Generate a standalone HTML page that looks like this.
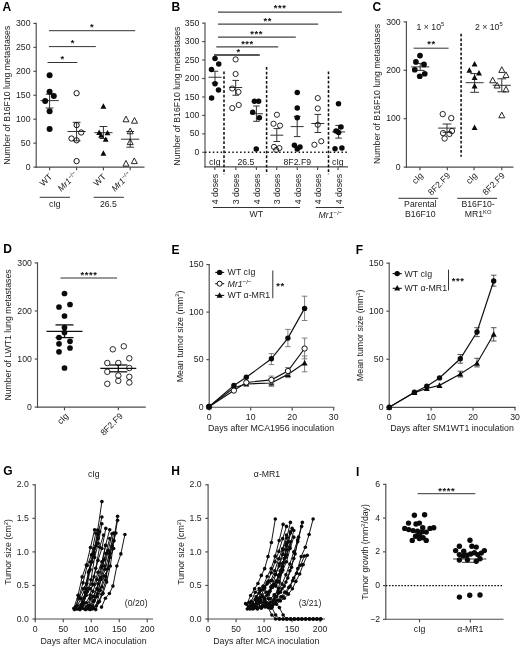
<!DOCTYPE html>
<html><head><meta charset="utf-8"><title>Figure</title>
<style>html,body{margin:0;padding:0;background:#fff}svg{display:block}text{font-family:"Liberation Sans",sans-serif}</style></head>
<body>
<svg width="520" height="646" viewBox="0 0 520 646">
<rect width="520" height="646" fill="#fff"/>
<text x="2.60" y="10.90" font-size="12" text-anchor="start" font-weight="bold" fill="#000">A</text>
<text x="171.40" y="10.90" font-size="12" text-anchor="start" font-weight="bold" fill="#000">B</text>
<text x="372.60" y="11.00" font-size="12" text-anchor="start" font-weight="bold" fill="#000">C</text>
<text x="3.30" y="253.00" font-size="12" text-anchor="start" font-weight="bold" fill="#000">D</text>
<text x="171.50" y="253.70" font-size="12" text-anchor="start" font-weight="bold" fill="#000">E</text>
<text x="355.80" y="253.90" font-size="12" text-anchor="start" font-weight="bold" fill="#000">F</text>
<text x="3.30" y="474.70" font-size="12" text-anchor="start" font-weight="bold" fill="#000">G</text>
<text x="171.20" y="474.80" font-size="12" text-anchor="start" font-weight="bold" fill="#000">H</text>
<text x="356.00" y="475.60" font-size="12" text-anchor="start" font-weight="bold" fill="#000">I</text>
<line x1="36.20" y1="22.80" x2="36.20" y2="167.70" stroke="#4c4c4c" stroke-width="1.15" stroke-linecap="butt"/>
<line x1="35.60" y1="167.10" x2="144.50" y2="167.10" stroke="#4c4c4c" stroke-width="1.15" stroke-linecap="butt"/>
<line x1="33.40" y1="167.10" x2="36.20" y2="167.10" stroke="#4c4c4c" stroke-width="1.15" stroke-linecap="butt"/>
<text x="30.50" y="169.70" font-size="8.7" text-anchor="end" fill="#222">0</text>
<line x1="33.40" y1="143.15" x2="36.20" y2="143.15" stroke="#4c4c4c" stroke-width="1.15" stroke-linecap="butt"/>
<text x="30.50" y="145.75" font-size="8.7" text-anchor="end" fill="#222">50</text>
<line x1="33.40" y1="119.20" x2="36.20" y2="119.20" stroke="#4c4c4c" stroke-width="1.15" stroke-linecap="butt"/>
<text x="30.50" y="121.80" font-size="8.7" text-anchor="end" fill="#222">100</text>
<line x1="33.40" y1="95.25" x2="36.20" y2="95.25" stroke="#4c4c4c" stroke-width="1.15" stroke-linecap="butt"/>
<text x="30.50" y="97.85" font-size="8.7" text-anchor="end" fill="#222">150</text>
<line x1="33.40" y1="71.30" x2="36.20" y2="71.30" stroke="#4c4c4c" stroke-width="1.15" stroke-linecap="butt"/>
<text x="30.50" y="73.90" font-size="8.7" text-anchor="end" fill="#222">200</text>
<line x1="33.40" y1="47.35" x2="36.20" y2="47.35" stroke="#4c4c4c" stroke-width="1.15" stroke-linecap="butt"/>
<text x="30.50" y="49.95" font-size="8.7" text-anchor="end" fill="#222">250</text>
<line x1="33.40" y1="23.40" x2="36.20" y2="23.40" stroke="#4c4c4c" stroke-width="1.15" stroke-linecap="butt"/>
<text x="30.50" y="26.00" font-size="8.7" text-anchor="end" fill="#222">300</text>
<line x1="49.60" y1="167.10" x2="49.60" y2="170.30" stroke="#4c4c4c" stroke-width="1.15" stroke-linecap="butt"/>
<line x1="76.60" y1="167.10" x2="76.60" y2="170.30" stroke="#4c4c4c" stroke-width="1.15" stroke-linecap="butt"/>
<line x1="103.40" y1="167.10" x2="103.40" y2="170.30" stroke="#4c4c4c" stroke-width="1.15" stroke-linecap="butt"/>
<line x1="130.20" y1="167.10" x2="130.20" y2="170.30" stroke="#4c4c4c" stroke-width="1.15" stroke-linecap="butt"/>
<text x="10.10" y="95.30" font-size="8.7" text-anchor="middle" transform="rotate(-90 10.10 95.30)" fill="#222">Number of B16F10 lung metastases</text>
<line x1="48.90" y1="30.70" x2="135.20" y2="30.70" stroke="#333" stroke-width="1.0" stroke-linecap="butt"/>
<text x="92.10" y="29.50" font-size="9.4" text-anchor="middle" font-weight="bold" fill="#111" letter-spacing="0.6">*</text>
<line x1="48.90" y1="46.60" x2="95.80" y2="46.60" stroke="#333" stroke-width="1.0" stroke-linecap="butt"/>
<text x="72.80" y="46.40" font-size="9.4" text-anchor="middle" font-weight="bold" fill="#111" letter-spacing="0.6">*</text>
<line x1="47.50" y1="62.50" x2="77.30" y2="62.50" stroke="#333" stroke-width="1.0" stroke-linecap="butt"/>
<text x="62.60" y="62.30" font-size="9.4" text-anchor="middle" font-weight="bold" fill="#111" letter-spacing="0.6">*</text>
<line x1="40.50" y1="100.60" x2="58.70" y2="100.60" stroke="#333" stroke-width="1.0" stroke-linecap="butt"/>
<line x1="49.60" y1="94.20" x2="49.60" y2="108.00" stroke="#333" stroke-width="1.0" stroke-linecap="butt"/>
<line x1="45.70" y1="94.20" x2="53.50" y2="94.20" stroke="#333" stroke-width="1.0" stroke-linecap="butt"/>
<line x1="45.70" y1="108.00" x2="53.50" y2="108.00" stroke="#333" stroke-width="1.0" stroke-linecap="butt"/>
<circle cx="49.60" cy="75.20" r="3.0" fill="#0a0a0a"/>
<circle cx="49.60" cy="91.80" r="3.0" fill="#0a0a0a"/>
<circle cx="53.80" cy="96.00" r="3.0" fill="#0a0a0a"/>
<circle cx="45.20" cy="101.10" r="3.0" fill="#0a0a0a"/>
<circle cx="49.60" cy="111.20" r="3.0" fill="#0a0a0a"/>
<circle cx="49.60" cy="129.00" r="3.0" fill="#0a0a0a"/>
<line x1="67.50" y1="131.50" x2="85.70" y2="131.50" stroke="#333" stroke-width="1.0" stroke-linecap="butt"/>
<line x1="76.60" y1="122.30" x2="76.60" y2="140.80" stroke="#333" stroke-width="1.0" stroke-linecap="butt"/>
<line x1="72.70" y1="122.30" x2="80.50" y2="122.30" stroke="#333" stroke-width="1.0" stroke-linecap="butt"/>
<line x1="72.70" y1="140.80" x2="80.50" y2="140.80" stroke="#333" stroke-width="1.0" stroke-linecap="butt"/>
<circle cx="76.60" cy="93.20" r="2.65" fill="none" stroke="#111" stroke-width="1.0"/>
<circle cx="76.60" cy="125.10" r="2.65" fill="none" stroke="#111" stroke-width="1.0"/>
<circle cx="81.20" cy="132.50" r="2.65" fill="none" stroke="#111" stroke-width="1.0"/>
<circle cx="71.50" cy="138.50" r="2.65" fill="none" stroke="#111" stroke-width="1.0"/>
<circle cx="76.60" cy="140.30" r="2.65" fill="none" stroke="#111" stroke-width="1.0"/>
<circle cx="76.60" cy="161.10" r="2.65" fill="none" stroke="#111" stroke-width="1.0"/>
<line x1="94.30" y1="132.70" x2="112.50" y2="132.70" stroke="#333" stroke-width="1.0" stroke-linecap="butt"/>
<line x1="103.40" y1="126.50" x2="103.40" y2="138.50" stroke="#333" stroke-width="1.0" stroke-linecap="butt"/>
<line x1="99.50" y1="126.50" x2="107.30" y2="126.50" stroke="#333" stroke-width="1.0" stroke-linecap="butt"/>
<line x1="99.50" y1="138.50" x2="107.30" y2="138.50" stroke="#333" stroke-width="1.0" stroke-linecap="butt"/>
<polygon points="103.40,103.20 100.45,108.66 106.35,108.66" fill="#0a0a0a"/>
<polygon points="99.20,129.50 96.25,134.96 102.15,134.96" fill="#0a0a0a"/>
<polygon points="107.50,129.90 104.55,135.36 110.45,135.36" fill="#0a0a0a"/>
<polygon points="101.10,132.20 98.15,137.66 104.05,137.66" fill="#0a0a0a"/>
<polygon points="105.70,136.40 102.75,141.86 108.65,141.86" fill="#0a0a0a"/>
<polygon points="103.40,150.20 100.45,155.66 106.35,155.66" fill="#0a0a0a"/>
<line x1="121.10" y1="139.20" x2="139.30" y2="139.20" stroke="#333" stroke-width="1.0" stroke-linecap="butt"/>
<line x1="130.20" y1="131.50" x2="130.20" y2="147.20" stroke="#333" stroke-width="1.0" stroke-linecap="butt"/>
<line x1="126.30" y1="131.50" x2="134.10" y2="131.50" stroke="#333" stroke-width="1.0" stroke-linecap="butt"/>
<line x1="126.30" y1="147.20" x2="134.10" y2="147.20" stroke="#333" stroke-width="1.0" stroke-linecap="butt"/>
<polygon points="126.00,116.13 122.99,121.81 129.01,121.81" fill="none" stroke="#111" stroke-width="0.9" stroke-linejoin="miter"/>
<polygon points="134.50,117.53 131.49,123.21 137.51,123.21" fill="none" stroke="#111" stroke-width="0.9" stroke-linejoin="miter"/>
<polygon points="130.20,128.13 127.19,133.81 133.21,133.81" fill="none" stroke="#111" stroke-width="0.9" stroke-linejoin="miter"/>
<polygon points="130.20,138.93 127.19,144.61 133.21,144.61" fill="none" stroke="#111" stroke-width="0.9" stroke-linejoin="miter"/>
<polygon points="126.00,160.43 122.99,166.11 129.01,166.11" fill="none" stroke="#111" stroke-width="0.9" stroke-linejoin="miter"/>
<polygon points="134.30,157.93 131.29,163.61 137.31,163.61" fill="none" stroke="#111" stroke-width="0.9" stroke-linejoin="miter"/>
<text x="52.80" y="177.30" font-size="8.7" text-anchor="end" transform="rotate(-45 52.80 177.30)" fill="#222">WT</text>
<text x="78.20" y="175.30" font-size="8.7" text-anchor="end" transform="rotate(-45 78.20 175.30)" font-style="italic" fill="#222">Mr1<tspan font-size="6.1" dy="-2.9" font-style="normal">−/−</tspan></text>
<text x="106.60" y="177.30" font-size="8.7" text-anchor="end" transform="rotate(-45 106.60 177.30)" fill="#222">WT</text>
<text x="131.80" y="175.30" font-size="8.7" text-anchor="end" transform="rotate(-45 131.80 175.30)" font-style="italic" fill="#222">Mr1<tspan font-size="6.1" dy="-2.9" font-style="normal">−/−</tspan></text>
<line x1="39.70" y1="197.30" x2="70.00" y2="197.30" stroke="#333" stroke-width="1.0" stroke-linecap="butt"/>
<text x="54.90" y="207.40" font-size="8.7" text-anchor="middle" fill="#222">cIg</text>
<line x1="93.60" y1="197.30" x2="123.90" y2="197.30" stroke="#333" stroke-width="1.0" stroke-linecap="butt"/>
<text x="108.40" y="207.40" font-size="8.7" text-anchor="middle" fill="#222">26.5</text>
<line x1="205.00" y1="22.55" x2="205.00" y2="167.50" stroke="#4c4c4c" stroke-width="1.15" stroke-linecap="butt"/>
<line x1="204.40" y1="166.90" x2="348.00" y2="166.90" stroke="#4c4c4c" stroke-width="1.15" stroke-linecap="butt"/>
<line x1="202.20" y1="152.30" x2="205.00" y2="152.30" stroke="#4c4c4c" stroke-width="1.15" stroke-linecap="butt"/>
<text x="199.30" y="154.90" font-size="8.7" text-anchor="end" fill="#222">0</text>
<line x1="202.20" y1="133.85" x2="205.00" y2="133.85" stroke="#4c4c4c" stroke-width="1.15" stroke-linecap="butt"/>
<text x="199.30" y="136.45" font-size="8.7" text-anchor="end" fill="#222">50</text>
<line x1="202.20" y1="115.40" x2="205.00" y2="115.40" stroke="#4c4c4c" stroke-width="1.15" stroke-linecap="butt"/>
<text x="199.30" y="118.00" font-size="8.7" text-anchor="end" fill="#222">100</text>
<line x1="202.20" y1="96.95" x2="205.00" y2="96.95" stroke="#4c4c4c" stroke-width="1.15" stroke-linecap="butt"/>
<text x="199.30" y="99.55" font-size="8.7" text-anchor="end" fill="#222">150</text>
<line x1="202.20" y1="78.50" x2="205.00" y2="78.50" stroke="#4c4c4c" stroke-width="1.15" stroke-linecap="butt"/>
<text x="199.30" y="81.10" font-size="8.7" text-anchor="end" fill="#222">200</text>
<line x1="202.20" y1="60.05" x2="205.00" y2="60.05" stroke="#4c4c4c" stroke-width="1.15" stroke-linecap="butt"/>
<text x="199.30" y="62.65" font-size="8.7" text-anchor="end" fill="#222">250</text>
<line x1="202.20" y1="41.60" x2="205.00" y2="41.60" stroke="#4c4c4c" stroke-width="1.15" stroke-linecap="butt"/>
<text x="199.30" y="44.20" font-size="8.7" text-anchor="end" fill="#222">300</text>
<line x1="202.20" y1="23.15" x2="205.00" y2="23.15" stroke="#4c4c4c" stroke-width="1.15" stroke-linecap="butt"/>
<text x="199.30" y="25.75" font-size="8.7" text-anchor="end" fill="#222">350</text>
<line x1="214.80" y1="166.90" x2="214.80" y2="170.10" stroke="#4c4c4c" stroke-width="1.15" stroke-linecap="butt"/>
<line x1="235.80" y1="166.90" x2="235.80" y2="170.10" stroke="#4c4c4c" stroke-width="1.15" stroke-linecap="butt"/>
<line x1="256.40" y1="166.90" x2="256.40" y2="170.10" stroke="#4c4c4c" stroke-width="1.15" stroke-linecap="butt"/>
<line x1="276.70" y1="166.90" x2="276.70" y2="170.10" stroke="#4c4c4c" stroke-width="1.15" stroke-linecap="butt"/>
<line x1="297.30" y1="166.90" x2="297.30" y2="170.10" stroke="#4c4c4c" stroke-width="1.15" stroke-linecap="butt"/>
<line x1="317.60" y1="166.90" x2="317.60" y2="170.10" stroke="#4c4c4c" stroke-width="1.15" stroke-linecap="butt"/>
<line x1="338.00" y1="166.90" x2="338.00" y2="170.10" stroke="#4c4c4c" stroke-width="1.15" stroke-linecap="butt"/>
<text x="180.20" y="96.10" font-size="8.7" text-anchor="middle" transform="rotate(-90 180.20 96.10)" fill="#222">Number of B16F10 lung metastases</text>
<line x1="205.00" y1="152.30" x2="348.00" y2="152.30" stroke="#111" stroke-width="1.4" stroke-dasharray="1.5 2.4" stroke-linecap="butt"/>
<line x1="224.00" y1="71.50" x2="224.00" y2="174.20" stroke="#111" stroke-width="1.55" stroke-dasharray="2.8 1.85" stroke-linecap="butt"/>
<line x1="266.60" y1="67.00" x2="266.60" y2="174.20" stroke="#111" stroke-width="1.55" stroke-dasharray="2.8 1.85" stroke-linecap="butt"/>
<line x1="328.50" y1="71.50" x2="328.50" y2="174.20" stroke="#111" stroke-width="1.55" stroke-dasharray="2.8 1.85" stroke-linecap="butt"/>
<line x1="218.00" y1="12.10" x2="341.90" y2="12.10" stroke="#444" stroke-width="1.1" stroke-linecap="butt"/>
<text x="280.10" y="11.00" font-size="9.4" text-anchor="middle" font-weight="bold" fill="#111" letter-spacing="0.6">***</text>
<line x1="218.00" y1="24.10" x2="318.20" y2="24.10" stroke="#444" stroke-width="1.1" stroke-linecap="butt"/>
<text x="267.80" y="23.70" font-size="9.4" text-anchor="middle" font-weight="bold" fill="#111" letter-spacing="0.6">**</text>
<line x1="218.00" y1="37.10" x2="295.80" y2="37.10" stroke="#444" stroke-width="1.1" stroke-linecap="butt"/>
<text x="256.70" y="36.60" font-size="9.4" text-anchor="middle" font-weight="bold" fill="#111" letter-spacing="0.6">***</text>
<line x1="216.30" y1="46.90" x2="278.20" y2="46.90" stroke="#444" stroke-width="1.1" stroke-linecap="butt"/>
<text x="247.50" y="47.20" font-size="9.4" text-anchor="middle" font-weight="bold" fill="#111" letter-spacing="0.6">***</text>
<line x1="214.00" y1="55.00" x2="259.80" y2="55.00" stroke="#222" stroke-width="1.4" stroke-linecap="butt"/>
<text x="238.50" y="55.10" font-size="9.4" text-anchor="middle" font-weight="bold" fill="#111" letter-spacing="0.6">*</text>
<line x1="208.50" y1="77.25" x2="221.50" y2="77.25" stroke="#333" stroke-width="1.0" stroke-linecap="butt"/>
<line x1="215.00" y1="71.25" x2="215.00" y2="82.90" stroke="#333" stroke-width="1.0" stroke-linecap="butt"/>
<line x1="211.70" y1="71.25" x2="218.30" y2="71.25" stroke="#333" stroke-width="1.0" stroke-linecap="butt"/>
<line x1="211.70" y1="82.90" x2="218.30" y2="82.90" stroke="#333" stroke-width="1.0" stroke-linecap="butt"/>
<circle cx="215.00" cy="58.50" r="2.75" fill="#0a0a0a"/>
<circle cx="218.75" cy="64.00" r="2.75" fill="#0a0a0a"/>
<circle cx="211.50" cy="69.60" r="2.75" fill="#0a0a0a"/>
<circle cx="215.00" cy="83.75" r="2.75" fill="#0a0a0a"/>
<circle cx="218.50" cy="90.00" r="2.75" fill="#0a0a0a"/>
<circle cx="211.60" cy="97.90" r="2.75" fill="#0a0a0a"/>
<line x1="229.20" y1="87.50" x2="242.20" y2="87.50" stroke="#333" stroke-width="1.0" stroke-linecap="butt"/>
<line x1="235.70" y1="80.40" x2="235.70" y2="95.25" stroke="#333" stroke-width="1.0" stroke-linecap="butt"/>
<line x1="232.40" y1="80.40" x2="239.00" y2="80.40" stroke="#333" stroke-width="1.0" stroke-linecap="butt"/>
<line x1="232.40" y1="95.25" x2="239.00" y2="95.25" stroke="#333" stroke-width="1.0" stroke-linecap="butt"/>
<circle cx="235.60" cy="59.40" r="2.5999999999999996" fill="none" stroke="#111" stroke-width="0.9"/>
<circle cx="235.60" cy="74.00" r="2.5999999999999996" fill="none" stroke="#111" stroke-width="0.9"/>
<circle cx="232.25" cy="88.50" r="2.5999999999999996" fill="none" stroke="#111" stroke-width="0.9"/>
<circle cx="238.50" cy="91.90" r="2.5999999999999996" fill="none" stroke="#111" stroke-width="0.9"/>
<circle cx="238.75" cy="105.00" r="2.5999999999999996" fill="none" stroke="#111" stroke-width="0.9"/>
<circle cx="232.25" cy="108.10" r="2.5999999999999996" fill="none" stroke="#111" stroke-width="0.9"/>
<line x1="249.90" y1="113.75" x2="262.90" y2="113.75" stroke="#333" stroke-width="1.0" stroke-linecap="butt"/>
<line x1="256.40" y1="106.00" x2="256.40" y2="121.30" stroke="#333" stroke-width="1.0" stroke-linecap="butt"/>
<line x1="253.10" y1="106.00" x2="259.70" y2="106.00" stroke="#333" stroke-width="1.0" stroke-linecap="butt"/>
<line x1="253.10" y1="121.30" x2="259.70" y2="121.30" stroke="#333" stroke-width="1.0" stroke-linecap="butt"/>
<circle cx="254.40" cy="101.25" r="2.75" fill="#0a0a0a"/>
<circle cx="258.60" cy="101.25" r="2.75" fill="#0a0a0a"/>
<circle cx="252.75" cy="112.25" r="2.75" fill="#0a0a0a"/>
<circle cx="259.40" cy="117.75" r="2.75" fill="#0a0a0a"/>
<circle cx="256.25" cy="148.90" r="2.75" fill="#0a0a0a"/>
<line x1="270.30" y1="135.20" x2="283.30" y2="135.20" stroke="#333" stroke-width="1.0" stroke-linecap="butt"/>
<line x1="276.80" y1="128.60" x2="276.80" y2="141.50" stroke="#333" stroke-width="1.0" stroke-linecap="butt"/>
<line x1="273.50" y1="128.60" x2="280.10" y2="128.60" stroke="#333" stroke-width="1.0" stroke-linecap="butt"/>
<line x1="273.50" y1="141.50" x2="280.10" y2="141.50" stroke="#333" stroke-width="1.0" stroke-linecap="butt"/>
<circle cx="276.90" cy="114.75" r="2.5999999999999996" fill="none" stroke="#111" stroke-width="0.9"/>
<circle cx="273.50" cy="123.75" r="2.5999999999999996" fill="none" stroke="#111" stroke-width="0.9"/>
<circle cx="280.00" cy="125.60" r="2.5999999999999996" fill="none" stroke="#111" stroke-width="0.9"/>
<circle cx="274.00" cy="146.90" r="2.5999999999999996" fill="none" stroke="#111" stroke-width="0.9"/>
<circle cx="279.40" cy="148.10" r="2.5999999999999996" fill="none" stroke="#111" stroke-width="0.9"/>
<circle cx="276.25" cy="150.00" r="2.5999999999999996" fill="none" stroke="#111" stroke-width="0.9"/>
<line x1="290.70" y1="126.60" x2="303.70" y2="126.60" stroke="#333" stroke-width="1.0" stroke-linecap="butt"/>
<line x1="297.20" y1="116.40" x2="297.20" y2="136.60" stroke="#333" stroke-width="1.0" stroke-linecap="butt"/>
<line x1="293.90" y1="116.40" x2="300.50" y2="116.40" stroke="#333" stroke-width="1.0" stroke-linecap="butt"/>
<line x1="293.90" y1="136.60" x2="300.50" y2="136.60" stroke="#333" stroke-width="1.0" stroke-linecap="butt"/>
<circle cx="297.25" cy="92.50" r="2.75" fill="#0a0a0a"/>
<circle cx="297.25" cy="108.10" r="2.75" fill="#0a0a0a"/>
<circle cx="297.25" cy="117.75" r="2.75" fill="#0a0a0a"/>
<circle cx="294.40" cy="145.20" r="2.75" fill="#0a0a0a"/>
<circle cx="300.00" cy="146.90" r="2.75" fill="#0a0a0a"/>
<circle cx="297.25" cy="148.90" r="2.75" fill="#0a0a0a"/>
<line x1="311.30" y1="123.50" x2="324.30" y2="123.50" stroke="#333" stroke-width="1.0" stroke-linecap="butt"/>
<line x1="317.80" y1="114.40" x2="317.80" y2="132.50" stroke="#333" stroke-width="1.0" stroke-linecap="butt"/>
<line x1="314.50" y1="114.40" x2="321.10" y2="114.40" stroke="#333" stroke-width="1.0" stroke-linecap="butt"/>
<line x1="314.50" y1="132.50" x2="321.10" y2="132.50" stroke="#333" stroke-width="1.0" stroke-linecap="butt"/>
<circle cx="317.75" cy="98.10" r="2.5999999999999996" fill="none" stroke="#111" stroke-width="0.9"/>
<circle cx="317.75" cy="108.40" r="2.5999999999999996" fill="none" stroke="#111" stroke-width="0.9"/>
<circle cx="317.75" cy="124.75" r="2.5999999999999996" fill="none" stroke="#111" stroke-width="0.9"/>
<circle cx="321.25" cy="141.25" r="2.5999999999999996" fill="none" stroke="#111" stroke-width="0.9"/>
<circle cx="314.40" cy="144.75" r="2.5999999999999996" fill="none" stroke="#111" stroke-width="0.9"/>
<line x1="332.10" y1="131.90" x2="345.10" y2="131.90" stroke="#333" stroke-width="1.0" stroke-linecap="butt"/>
<line x1="338.60" y1="125.40" x2="338.60" y2="138.10" stroke="#333" stroke-width="1.0" stroke-linecap="butt"/>
<line x1="335.30" y1="125.40" x2="341.90" y2="125.40" stroke="#333" stroke-width="1.0" stroke-linecap="butt"/>
<line x1="335.30" y1="138.10" x2="341.90" y2="138.10" stroke="#333" stroke-width="1.0" stroke-linecap="butt"/>
<circle cx="338.50" cy="103.75" r="2.75" fill="#0a0a0a"/>
<circle cx="341.00" cy="126.90" r="2.75" fill="#0a0a0a"/>
<circle cx="336.00" cy="131.00" r="2.75" fill="#0a0a0a"/>
<circle cx="338.60" cy="132.50" r="2.75" fill="#0a0a0a"/>
<circle cx="335.00" cy="148.75" r="2.75" fill="#0a0a0a"/>
<circle cx="341.90" cy="148.10" r="2.75" fill="#0a0a0a"/>
<text x="214.80" y="164.50" font-size="8.7" text-anchor="middle" fill="#222">cIg</text>
<text x="245.90" y="164.50" font-size="8.7" text-anchor="middle" fill="#222">26.5</text>
<text x="297.30" y="164.50" font-size="8.7" text-anchor="middle" fill="#222">8F2.F9</text>
<text x="337.90" y="164.50" font-size="8.7" text-anchor="middle" fill="#222">cIg</text>
<text x="218.40" y="173.80" font-size="8.7" text-anchor="end" transform="rotate(-90 218.40 173.80)" fill="#222">4 doses</text>
<text x="239.40" y="173.80" font-size="8.7" text-anchor="end" transform="rotate(-90 239.40 173.80)" fill="#222">3 doses</text>
<text x="260.00" y="173.80" font-size="8.7" text-anchor="end" transform="rotate(-90 260.00 173.80)" fill="#222">4 doses</text>
<text x="280.30" y="173.80" font-size="8.7" text-anchor="end" transform="rotate(-90 280.30 173.80)" fill="#222">3 doses</text>
<text x="300.90" y="173.80" font-size="8.7" text-anchor="end" transform="rotate(-90 300.90 173.80)" fill="#222">4 doses</text>
<text x="321.20" y="173.80" font-size="8.7" text-anchor="end" transform="rotate(-90 321.20 173.80)" fill="#222">4 doses</text>
<text x="341.60" y="173.80" font-size="8.7" text-anchor="end" transform="rotate(-90 341.60 173.80)" fill="#222">4 doses</text>
<line x1="213.00" y1="207.50" x2="300.00" y2="207.50" stroke="#333" stroke-width="1.0" stroke-linecap="butt"/>
<text x="256.30" y="216.80" font-size="8.7" text-anchor="middle" fill="#222">WT</text>
<line x1="315.70" y1="207.50" x2="344.00" y2="207.50" stroke="#333" stroke-width="1.0" stroke-linecap="butt"/>
<text x="330.50" y="217.60" font-size="8.7" text-anchor="middle" font-style="italic" fill="#222">Mr1<tspan font-size="6.1" dy="-2.9" font-style="normal">−/−</tspan></text>
<line x1="406.40" y1="21.30" x2="406.40" y2="167.70" stroke="#4c4c4c" stroke-width="1.15" stroke-linecap="butt"/>
<line x1="405.80" y1="167.10" x2="513.50" y2="167.10" stroke="#4c4c4c" stroke-width="1.15" stroke-linecap="butt"/>
<line x1="403.60" y1="167.10" x2="406.40" y2="167.10" stroke="#4c4c4c" stroke-width="1.15" stroke-linecap="butt"/>
<text x="400.70" y="169.70" font-size="8.7" text-anchor="end" fill="#222">0</text>
<line x1="403.60" y1="118.70" x2="406.40" y2="118.70" stroke="#4c4c4c" stroke-width="1.15" stroke-linecap="butt"/>
<text x="400.70" y="121.30" font-size="8.7" text-anchor="end" fill="#222">100</text>
<line x1="403.60" y1="70.30" x2="406.40" y2="70.30" stroke="#4c4c4c" stroke-width="1.15" stroke-linecap="butt"/>
<text x="400.70" y="72.90" font-size="8.7" text-anchor="end" fill="#222">200</text>
<line x1="403.60" y1="21.90" x2="406.40" y2="21.90" stroke="#4c4c4c" stroke-width="1.15" stroke-linecap="butt"/>
<text x="400.70" y="24.50" font-size="8.7" text-anchor="end" fill="#222">300</text>
<line x1="420.00" y1="167.10" x2="420.00" y2="170.30" stroke="#4c4c4c" stroke-width="1.15" stroke-linecap="butt"/>
<line x1="447.30" y1="167.10" x2="447.30" y2="170.30" stroke="#4c4c4c" stroke-width="1.15" stroke-linecap="butt"/>
<line x1="474.00" y1="167.10" x2="474.00" y2="170.30" stroke="#4c4c4c" stroke-width="1.15" stroke-linecap="butt"/>
<line x1="501.80" y1="167.10" x2="501.80" y2="170.30" stroke="#4c4c4c" stroke-width="1.15" stroke-linecap="butt"/>
<text x="380.50" y="93.90" font-size="8.75" text-anchor="middle" transform="rotate(-90 380.50 93.90)" fill="#222">Number of B16F10 lung metastases</text>
<text x="430.40" y="29.70" font-size="8.7" text-anchor="middle" fill="#222">1 × 10<tspan font-size="5.8" dy="-3.3">5</tspan></text>
<text x="488.80" y="29.70" font-size="8.7" text-anchor="middle" fill="#222">2 × 10<tspan font-size="5.8" dy="-3.3">5</tspan></text>
<line x1="413.60" y1="48.20" x2="448.60" y2="48.20" stroke="#333" stroke-width="1.0" stroke-linecap="butt"/>
<text x="431.50" y="47.20" font-size="9.4" text-anchor="middle" font-weight="bold" fill="#111" letter-spacing="0.6">**</text>
<line x1="461.10" y1="33.80" x2="461.10" y2="156.70" stroke="#111" stroke-width="1.55" stroke-dasharray="2.8 1.85" stroke-linecap="butt"/>
<line x1="411.10" y1="66.90" x2="429.30" y2="66.90" stroke="#333" stroke-width="1.0" stroke-linecap="butt"/>
<line x1="420.20" y1="63.40" x2="420.20" y2="70.40" stroke="#333" stroke-width="1.0" stroke-linecap="butt"/>
<line x1="415.80" y1="63.40" x2="424.60" y2="63.40" stroke="#333" stroke-width="1.0" stroke-linecap="butt"/>
<line x1="415.80" y1="70.40" x2="424.60" y2="70.40" stroke="#333" stroke-width="1.0" stroke-linecap="butt"/>
<circle cx="420.00" cy="55.60" r="2.85" fill="#0a0a0a"/>
<circle cx="415.90" cy="61.90" r="2.85" fill="#0a0a0a"/>
<circle cx="424.00" cy="64.40" r="2.85" fill="#0a0a0a"/>
<circle cx="414.75" cy="69.75" r="2.85" fill="#0a0a0a"/>
<circle cx="424.75" cy="73.75" r="2.85" fill="#0a0a0a"/>
<circle cx="419.75" cy="76.25" r="2.85" fill="#0a0a0a"/>
<line x1="438.10" y1="128.10" x2="455.90" y2="128.10" stroke="#333" stroke-width="1.0" stroke-linecap="butt"/>
<line x1="447.00" y1="124.00" x2="447.00" y2="132.25" stroke="#333" stroke-width="1.0" stroke-linecap="butt"/>
<line x1="442.60" y1="124.00" x2="451.40" y2="124.00" stroke="#333" stroke-width="1.0" stroke-linecap="butt"/>
<line x1="442.60" y1="132.25" x2="451.40" y2="132.25" stroke="#333" stroke-width="1.0" stroke-linecap="butt"/>
<circle cx="442.75" cy="114.10" r="2.6999999999999997" fill="none" stroke="#111" stroke-width="0.9"/>
<circle cx="451.25" cy="118.10" r="2.6999999999999997" fill="none" stroke="#111" stroke-width="0.9"/>
<circle cx="443.10" cy="133.10" r="2.6999999999999997" fill="none" stroke="#111" stroke-width="0.9"/>
<circle cx="449.40" cy="134.00" r="2.6999999999999997" fill="none" stroke="#111" stroke-width="0.9"/>
<circle cx="452.00" cy="131.00" r="2.6999999999999997" fill="none" stroke="#111" stroke-width="0.9"/>
<circle cx="444.60" cy="138.50" r="2.6999999999999997" fill="none" stroke="#111" stroke-width="0.9"/>
<line x1="465.60" y1="82.70" x2="483.60" y2="82.70" stroke="#333" stroke-width="1.0" stroke-linecap="butt"/>
<line x1="474.60" y1="73.60" x2="474.60" y2="92.30" stroke="#333" stroke-width="1.0" stroke-linecap="butt"/>
<line x1="470.20" y1="73.60" x2="479.00" y2="73.60" stroke="#333" stroke-width="1.0" stroke-linecap="butt"/>
<line x1="470.20" y1="92.30" x2="479.00" y2="92.30" stroke="#333" stroke-width="1.0" stroke-linecap="butt"/>
<polygon points="474.60,61.00 471.65,66.46 477.55,66.46" fill="#0a0a0a"/>
<polygon points="469.40,67.20 466.45,72.66 472.35,72.66" fill="#0a0a0a"/>
<polygon points="479.00,70.10 476.05,75.56 481.95,75.56" fill="#0a0a0a"/>
<polygon points="474.60,74.50 471.65,79.96 477.55,79.96" fill="#0a0a0a"/>
<polygon points="474.60,83.10 471.65,88.56 477.55,88.56" fill="#0a0a0a"/>
<polygon points="474.60,124.60 471.65,130.06 477.55,130.06" fill="#0a0a0a"/>
<line x1="492.70" y1="85.30" x2="510.90" y2="85.30" stroke="#333" stroke-width="1.0" stroke-linecap="butt"/>
<line x1="501.80" y1="78.80" x2="501.80" y2="91.80" stroke="#333" stroke-width="1.0" stroke-linecap="butt"/>
<line x1="497.40" y1="78.80" x2="506.20" y2="78.80" stroke="#333" stroke-width="1.0" stroke-linecap="butt"/>
<line x1="497.40" y1="91.80" x2="506.20" y2="91.80" stroke="#333" stroke-width="1.0" stroke-linecap="butt"/>
<polygon points="501.80,66.73 498.79,72.41 504.81,72.41" fill="none" stroke="#111" stroke-width="0.9" stroke-linejoin="miter"/>
<polygon points="506.00,71.93 502.99,77.61 509.01,77.61" fill="none" stroke="#111" stroke-width="0.9" stroke-linejoin="miter"/>
<polygon points="492.70,77.13 489.69,82.81 495.71,82.81" fill="none" stroke="#111" stroke-width="0.9" stroke-linejoin="miter"/>
<polygon points="497.10,82.33 494.09,88.01 500.11,88.01" fill="none" stroke="#111" stroke-width="0.9" stroke-linejoin="miter"/>
<polygon points="506.00,86.23 502.99,91.91 509.01,91.91" fill="none" stroke="#111" stroke-width="0.9" stroke-linejoin="miter"/>
<polygon points="501.80,112.13 498.79,117.81 504.81,117.81" fill="none" stroke="#111" stroke-width="0.9" stroke-linejoin="miter"/>
<text x="423.70" y="176.20" font-size="8.7" text-anchor="end" transform="rotate(-45 423.70 176.20)" fill="#222">cIg</text>
<text x="451.00" y="176.20" font-size="8.7" text-anchor="end" transform="rotate(-45 451.00 176.20)" fill="#222">8F2.F9</text>
<text x="477.70" y="176.20" font-size="8.7" text-anchor="end" transform="rotate(-45 477.70 176.20)" fill="#222">cIg</text>
<text x="505.50" y="176.20" font-size="8.7" text-anchor="end" transform="rotate(-45 505.50 176.20)" fill="#222">8F2.F9</text>
<line x1="398.40" y1="198.30" x2="438.30" y2="198.30" stroke="#333" stroke-width="1.0" stroke-linecap="butt"/>
<text x="420.30" y="207.40" font-size="8.7" text-anchor="middle" fill="#222">Parental</text>
<text x="420.30" y="217.30" font-size="8.7" text-anchor="middle" fill="#222">B16F10</text>
<line x1="457.20" y1="198.30" x2="497.10" y2="198.30" stroke="#333" stroke-width="1.0" stroke-linecap="butt"/>
<text x="478.10" y="207.40" font-size="8.7" text-anchor="middle" fill="#222">B16F10-</text>
<text x="478.10" y="217.30" font-size="8.7" text-anchor="middle" fill="#222">MR1<tspan font-size="5.8" dy="-3.3">KO</tspan></text>
<line x1="37.50" y1="262.31" x2="37.50" y2="407.75" stroke="#4c4c4c" stroke-width="1.15" stroke-linecap="butt"/>
<line x1="36.90" y1="407.15" x2="145.80" y2="407.15" stroke="#4c4c4c" stroke-width="1.15" stroke-linecap="butt"/>
<line x1="34.70" y1="407.15" x2="37.50" y2="407.15" stroke="#4c4c4c" stroke-width="1.15" stroke-linecap="butt"/>
<text x="31.80" y="409.75" font-size="8.7" text-anchor="end" fill="#222">0</text>
<line x1="34.70" y1="359.07" x2="37.50" y2="359.07" stroke="#4c4c4c" stroke-width="1.15" stroke-linecap="butt"/>
<text x="31.80" y="361.67" font-size="8.7" text-anchor="end" fill="#222">100</text>
<line x1="34.70" y1="310.99" x2="37.50" y2="310.99" stroke="#4c4c4c" stroke-width="1.15" stroke-linecap="butt"/>
<text x="31.80" y="313.59" font-size="8.7" text-anchor="end" fill="#222">200</text>
<line x1="34.70" y1="262.91" x2="37.50" y2="262.91" stroke="#4c4c4c" stroke-width="1.15" stroke-linecap="butt"/>
<text x="31.80" y="265.51" font-size="8.7" text-anchor="end" fill="#222">300</text>
<line x1="64.50" y1="407.15" x2="64.50" y2="410.35" stroke="#4c4c4c" stroke-width="1.15" stroke-linecap="butt"/>
<line x1="118.30" y1="407.15" x2="118.30" y2="410.35" stroke="#4c4c4c" stroke-width="1.15" stroke-linecap="butt"/>
<text x="11.00" y="335.00" font-size="8.7" text-anchor="middle" transform="rotate(-90 11.00 335.00)" fill="#222">Number of LWT1 lung metastases</text>
<line x1="60.50" y1="278.00" x2="117.00" y2="278.00" stroke="#333" stroke-width="1.0" stroke-linecap="butt"/>
<text x="89.10" y="277.80" font-size="9.4" text-anchor="middle" font-weight="bold" fill="#111" letter-spacing="0.6">****</text>
<line x1="46.50" y1="331.40" x2="82.50" y2="331.40" stroke="#111" stroke-width="1.3" stroke-linecap="butt"/>
<line x1="64.50" y1="324.90" x2="64.50" y2="337.60" stroke="#111" stroke-width="1.3" stroke-linecap="butt"/>
<line x1="55.50" y1="324.90" x2="73.50" y2="324.90" stroke="#111" stroke-width="1.3" stroke-linecap="butt"/>
<line x1="55.50" y1="337.60" x2="73.50" y2="337.60" stroke="#111" stroke-width="1.3" stroke-linecap="butt"/>
<circle cx="64.50" cy="293.50" r="2.85" fill="#0a0a0a"/>
<circle cx="70.00" cy="304.50" r="2.85" fill="#0a0a0a"/>
<circle cx="59.00" cy="307.00" r="2.85" fill="#0a0a0a"/>
<circle cx="64.50" cy="316.00" r="2.85" fill="#0a0a0a"/>
<circle cx="64.50" cy="327.50" r="2.85" fill="#0a0a0a"/>
<circle cx="64.50" cy="332.50" r="2.85" fill="#0a0a0a"/>
<circle cx="59.00" cy="337.50" r="2.85" fill="#0a0a0a"/>
<circle cx="70.00" cy="341.30" r="2.85" fill="#0a0a0a"/>
<circle cx="59.00" cy="343.80" r="2.85" fill="#0a0a0a"/>
<circle cx="70.00" cy="348.00" r="2.85" fill="#0a0a0a"/>
<circle cx="59.00" cy="351.80" r="2.85" fill="#0a0a0a"/>
<circle cx="64.50" cy="368.00" r="2.85" fill="#0a0a0a"/>
<line x1="100.30" y1="368.30" x2="136.30" y2="368.30" stroke="#111" stroke-width="1.3" stroke-linecap="butt"/>
<line x1="118.30" y1="365.00" x2="118.30" y2="371.80" stroke="#111" stroke-width="1.3" stroke-linecap="butt"/>
<line x1="109.30" y1="365.00" x2="127.30" y2="365.00" stroke="#111" stroke-width="1.3" stroke-linecap="butt"/>
<line x1="109.30" y1="371.80" x2="127.30" y2="371.80" stroke="#111" stroke-width="1.3" stroke-linecap="butt"/>
<circle cx="123.80" cy="346.30" r="2.75" fill="none" stroke="#111" stroke-width="0.9"/>
<circle cx="112.80" cy="349.30" r="2.75" fill="none" stroke="#111" stroke-width="0.9"/>
<circle cx="129.30" cy="358.30" r="2.75" fill="none" stroke="#111" stroke-width="0.9"/>
<circle cx="107.30" cy="363.00" r="2.75" fill="none" stroke="#111" stroke-width="0.9"/>
<circle cx="118.30" cy="363.00" r="2.75" fill="none" stroke="#111" stroke-width="0.9"/>
<circle cx="129.30" cy="368.00" r="2.75" fill="none" stroke="#111" stroke-width="0.9"/>
<circle cx="107.30" cy="371.80" r="2.75" fill="none" stroke="#111" stroke-width="0.9"/>
<circle cx="118.30" cy="375.50" r="2.75" fill="none" stroke="#111" stroke-width="0.9"/>
<circle cx="129.30" cy="376.80" r="2.75" fill="none" stroke="#111" stroke-width="0.9"/>
<circle cx="118.30" cy="380.80" r="2.75" fill="none" stroke="#111" stroke-width="0.9"/>
<circle cx="107.30" cy="383.80" r="2.75" fill="none" stroke="#111" stroke-width="0.9"/>
<circle cx="129.30" cy="382.50" r="2.75" fill="none" stroke="#111" stroke-width="0.9"/>
<text x="69.00" y="416.60" font-size="8.7" text-anchor="end" transform="rotate(-45 69.00 416.60)" fill="#222">cIg</text>
<text x="123.40" y="416.60" font-size="8.7" text-anchor="end" transform="rotate(-45 123.40 416.60)" fill="#222">8F2.F9</text>
<line x1="209.20" y1="263.95" x2="209.20" y2="407.80" stroke="#4c4c4c" stroke-width="1.15" stroke-linecap="butt"/>
<line x1="208.60" y1="407.20" x2="334.30" y2="407.20" stroke="#4c4c4c" stroke-width="1.15" stroke-linecap="butt"/>
<line x1="206.40" y1="407.20" x2="209.20" y2="407.20" stroke="#4c4c4c" stroke-width="1.15" stroke-linecap="butt"/>
<text x="203.50" y="409.80" font-size="8.7" text-anchor="end" fill="#222">0</text>
<line x1="206.40" y1="359.65" x2="209.20" y2="359.65" stroke="#4c4c4c" stroke-width="1.15" stroke-linecap="butt"/>
<text x="203.50" y="362.25" font-size="8.7" text-anchor="end" fill="#222">50</text>
<line x1="206.40" y1="312.10" x2="209.20" y2="312.10" stroke="#4c4c4c" stroke-width="1.15" stroke-linecap="butt"/>
<text x="203.50" y="314.70" font-size="8.7" text-anchor="end" fill="#222">100</text>
<line x1="206.40" y1="264.55" x2="209.20" y2="264.55" stroke="#4c4c4c" stroke-width="1.15" stroke-linecap="butt"/>
<text x="203.50" y="267.15" font-size="8.7" text-anchor="end" fill="#222">150</text>
<line x1="209.20" y1="407.20" x2="209.20" y2="410.40" stroke="#4c4c4c" stroke-width="1.15" stroke-linecap="butt"/>
<line x1="250.70" y1="407.20" x2="250.70" y2="410.40" stroke="#4c4c4c" stroke-width="1.15" stroke-linecap="butt"/>
<line x1="292.20" y1="407.20" x2="292.20" y2="410.40" stroke="#4c4c4c" stroke-width="1.15" stroke-linecap="butt"/>
<line x1="333.70" y1="407.20" x2="333.70" y2="410.40" stroke="#4c4c4c" stroke-width="1.15" stroke-linecap="butt"/>
<text x="209.20" y="419.80" font-size="8.7" text-anchor="middle" fill="#222">0</text>
<text x="250.70" y="419.80" font-size="8.7" text-anchor="middle" fill="#222">10</text>
<text x="292.20" y="419.80" font-size="8.7" text-anchor="middle" fill="#222">20</text>
<text x="333.70" y="419.80" font-size="8.7" text-anchor="middle" fill="#222">30</text>
<text x="182.80" y="336.50" font-size="8.85" text-anchor="middle" transform="rotate(-90 182.80 336.50)" fill="#222">Mean tumor size (mm<tspan font-size="5.8" dy="-3.3">2</tspan><tspan dy="3.3">)</tspan></text>
<text x="271.00" y="431.30" font-size="8.8" text-anchor="middle" fill="#222">Days after MCA1956 inoculation</text>
<line x1="271.40" y1="378.50" x2="271.40" y2="386.30" stroke="#707070" stroke-width="0.9" stroke-linecap="butt"/>
<line x1="268.60" y1="378.50" x2="274.20" y2="378.50" stroke="#707070" stroke-width="0.9" stroke-linecap="butt"/>
<line x1="268.60" y1="386.30" x2="274.20" y2="386.30" stroke="#707070" stroke-width="0.9" stroke-linecap="butt"/>
<line x1="287.90" y1="370.40" x2="287.90" y2="377.60" stroke="#707070" stroke-width="0.9" stroke-linecap="butt"/>
<line x1="285.10" y1="370.40" x2="290.70" y2="370.40" stroke="#707070" stroke-width="0.9" stroke-linecap="butt"/>
<line x1="285.10" y1="377.60" x2="290.70" y2="377.60" stroke="#707070" stroke-width="0.9" stroke-linecap="butt"/>
<line x1="304.60" y1="356.00" x2="304.60" y2="371.80" stroke="#707070" stroke-width="0.9" stroke-linecap="butt"/>
<line x1="301.80" y1="356.00" x2="307.40" y2="356.00" stroke="#707070" stroke-width="0.9" stroke-linecap="butt"/>
<line x1="301.80" y1="371.80" x2="307.40" y2="371.80" stroke="#707070" stroke-width="0.9" stroke-linecap="butt"/>
<polyline fill="none" stroke="#111" stroke-width="1.2" points="209.00,406.70 233.90,387.70 246.30,384.00 271.40,383.00 287.90,374.40 304.60,363.00"/>
<polygon points="209.00,403.65 206.00,409.20 212.00,409.20" fill="#0a0a0a"/>
<polygon points="233.90,384.65 230.90,390.20 236.90,390.20" fill="#0a0a0a"/>
<polygon points="246.30,380.95 243.30,386.50 249.30,386.50" fill="#0a0a0a"/>
<polygon points="271.40,379.95 268.40,385.50 274.40,385.50" fill="#0a0a0a"/>
<polygon points="287.90,371.35 284.90,376.90 290.90,376.90" fill="#0a0a0a"/>
<polygon points="304.60,359.95 301.60,365.50 307.60,365.50" fill="#0a0a0a"/>
<line x1="271.40" y1="376.10" x2="271.40" y2="383.90" stroke="#707070" stroke-width="0.9" stroke-linecap="butt"/>
<line x1="268.60" y1="376.10" x2="274.20" y2="376.10" stroke="#707070" stroke-width="0.9" stroke-linecap="butt"/>
<line x1="268.60" y1="383.90" x2="274.20" y2="383.90" stroke="#707070" stroke-width="0.9" stroke-linecap="butt"/>
<line x1="287.90" y1="367.50" x2="287.90" y2="374.70" stroke="#707070" stroke-width="0.9" stroke-linecap="butt"/>
<line x1="285.10" y1="367.50" x2="290.70" y2="367.50" stroke="#707070" stroke-width="0.9" stroke-linecap="butt"/>
<line x1="285.10" y1="374.70" x2="290.70" y2="374.70" stroke="#707070" stroke-width="0.9" stroke-linecap="butt"/>
<line x1="304.60" y1="338.10" x2="304.60" y2="358.80" stroke="#707070" stroke-width="0.9" stroke-linecap="butt"/>
<line x1="301.80" y1="338.10" x2="307.40" y2="338.10" stroke="#707070" stroke-width="0.9" stroke-linecap="butt"/>
<line x1="301.80" y1="358.80" x2="307.40" y2="358.80" stroke="#707070" stroke-width="0.9" stroke-linecap="butt"/>
<polyline fill="none" stroke="#111" stroke-width="1.2" points="209.00,406.70 233.90,390.60 246.30,382.50 271.40,379.90 287.90,371.00 304.60,348.50"/>
<circle cx="209.00" cy="406.70" r="2.65" fill="#fff" stroke="#111" stroke-width="1.0"/>
<circle cx="233.90" cy="390.60" r="2.65" fill="#fff" stroke="#111" stroke-width="1.0"/>
<circle cx="246.30" cy="382.50" r="2.65" fill="#fff" stroke="#111" stroke-width="1.0"/>
<circle cx="271.40" cy="379.90" r="2.65" fill="#fff" stroke="#111" stroke-width="1.0"/>
<circle cx="287.90" cy="371.00" r="2.65" fill="#fff" stroke="#111" stroke-width="1.0"/>
<circle cx="304.60" cy="348.50" r="2.65" fill="#fff" stroke="#111" stroke-width="1.0"/>
<line x1="271.40" y1="353.60" x2="271.40" y2="364.60" stroke="#707070" stroke-width="0.9" stroke-linecap="butt"/>
<line x1="268.60" y1="353.60" x2="274.20" y2="353.60" stroke="#707070" stroke-width="0.9" stroke-linecap="butt"/>
<line x1="268.60" y1="364.60" x2="274.20" y2="364.60" stroke="#707070" stroke-width="0.9" stroke-linecap="butt"/>
<line x1="287.90" y1="329.40" x2="287.90" y2="346.70" stroke="#707070" stroke-width="0.9" stroke-linecap="butt"/>
<line x1="285.10" y1="329.40" x2="290.70" y2="329.40" stroke="#707070" stroke-width="0.9" stroke-linecap="butt"/>
<line x1="285.10" y1="346.70" x2="290.70" y2="346.70" stroke="#707070" stroke-width="0.9" stroke-linecap="butt"/>
<line x1="304.60" y1="296.20" x2="304.60" y2="320.50" stroke="#707070" stroke-width="0.9" stroke-linecap="butt"/>
<line x1="301.80" y1="296.20" x2="307.40" y2="296.20" stroke="#707070" stroke-width="0.9" stroke-linecap="butt"/>
<line x1="301.80" y1="320.50" x2="307.40" y2="320.50" stroke="#707070" stroke-width="0.9" stroke-linecap="butt"/>
<polyline fill="none" stroke="#111" stroke-width="1.2" points="209.00,406.70 233.90,385.40 246.30,377.30 271.40,358.80 287.90,338.10 304.60,308.40"/>
<circle cx="209.00" cy="406.70" r="2.7" fill="#0a0a0a"/>
<circle cx="233.90" cy="385.40" r="2.7" fill="#0a0a0a"/>
<circle cx="246.30" cy="377.30" r="2.7" fill="#0a0a0a"/>
<circle cx="271.40" cy="358.80" r="2.7" fill="#0a0a0a"/>
<circle cx="287.90" cy="338.10" r="2.7" fill="#0a0a0a"/>
<circle cx="304.60" cy="308.40" r="2.7" fill="#0a0a0a"/>
<line x1="215.20" y1="272.40" x2="224.20" y2="272.40" stroke="#111" stroke-width="1.1" stroke-linecap="butt"/>
<circle cx="219.60" cy="272.40" r="2.7" fill="#0a0a0a"/>
<text x="227.60" y="275.40" font-size="8.8" text-anchor="start" fill="#222">WT cIg</text>
<line x1="215.20" y1="283.70" x2="224.20" y2="283.70" stroke="#111" stroke-width="1.1" stroke-linecap="butt"/>
<circle cx="219.60" cy="283.70" r="2.5" fill="#fff" stroke="#111" stroke-width="1.0"/>
<text x="227.60" y="287.00" font-size="8.8" text-anchor="start" font-style="italic" fill="#222">Mr1<tspan font-size="6.2" dy="-2.9" font-style="normal">−/−</tspan></text>
<line x1="215.20" y1="295.40" x2="224.20" y2="295.40" stroke="#111" stroke-width="1.1" stroke-linecap="butt"/>
<polygon points="219.60,292.15 216.60,297.70 222.60,297.70" fill="#0a0a0a"/>
<text x="227.60" y="298.40" font-size="8.8" text-anchor="start" fill="#222">WT α-MR1</text>
<line x1="272.80" y1="270.50" x2="272.80" y2="298.20" stroke="#333" stroke-width="1.0" stroke-linecap="butt"/>
<text x="280.40" y="288.60" font-size="9.4" text-anchor="middle" font-weight="bold" fill="#111" letter-spacing="0.6">**</text>
<line x1="389.20" y1="262.55" x2="389.20" y2="407.90" stroke="#4c4c4c" stroke-width="1.15" stroke-linecap="butt"/>
<line x1="388.60" y1="407.30" x2="515.59" y2="407.30" stroke="#4c4c4c" stroke-width="1.15" stroke-linecap="butt"/>
<line x1="386.40" y1="407.30" x2="389.20" y2="407.30" stroke="#4c4c4c" stroke-width="1.15" stroke-linecap="butt"/>
<text x="383.50" y="409.90" font-size="8.7" text-anchor="end" fill="#222">0</text>
<line x1="386.40" y1="359.25" x2="389.20" y2="359.25" stroke="#4c4c4c" stroke-width="1.15" stroke-linecap="butt"/>
<text x="383.50" y="361.85" font-size="8.7" text-anchor="end" fill="#222">50</text>
<line x1="386.40" y1="311.20" x2="389.20" y2="311.20" stroke="#4c4c4c" stroke-width="1.15" stroke-linecap="butt"/>
<text x="383.50" y="313.80" font-size="8.7" text-anchor="end" fill="#222">100</text>
<line x1="386.40" y1="263.15" x2="389.20" y2="263.15" stroke="#4c4c4c" stroke-width="1.15" stroke-linecap="butt"/>
<text x="383.50" y="265.75" font-size="8.7" text-anchor="end" fill="#222">150</text>
<line x1="389.20" y1="407.30" x2="389.20" y2="410.50" stroke="#4c4c4c" stroke-width="1.15" stroke-linecap="butt"/>
<line x1="431.13" y1="407.30" x2="431.13" y2="410.50" stroke="#4c4c4c" stroke-width="1.15" stroke-linecap="butt"/>
<line x1="473.06" y1="407.30" x2="473.06" y2="410.50" stroke="#4c4c4c" stroke-width="1.15" stroke-linecap="butt"/>
<line x1="514.99" y1="407.30" x2="514.99" y2="410.50" stroke="#4c4c4c" stroke-width="1.15" stroke-linecap="butt"/>
<text x="389.20" y="419.80" font-size="8.7" text-anchor="middle" fill="#222">0</text>
<text x="431.13" y="419.80" font-size="8.7" text-anchor="middle" fill="#222">10</text>
<text x="473.06" y="419.80" font-size="8.7" text-anchor="middle" fill="#222">20</text>
<text x="514.99" y="419.80" font-size="8.7" text-anchor="middle" fill="#222">30</text>
<text x="363.40" y="335.30" font-size="8.85" text-anchor="middle" transform="rotate(-90 363.40 335.30)" fill="#222">Mean tumor size (mm<tspan font-size="5.8" dy="-3.3">2</tspan><tspan dy="3.3">)</tspan></text>
<text x="452.00" y="431.00" font-size="8.8" text-anchor="middle" fill="#222">Days after SM1WT1 inoculation</text>
<line x1="460.30" y1="371.20" x2="460.30" y2="377.00" stroke="#444" stroke-width="0.9" stroke-linecap="butt"/>
<line x1="457.50" y1="371.20" x2="463.10" y2="371.20" stroke="#444" stroke-width="0.9" stroke-linecap="butt"/>
<line x1="457.50" y1="377.00" x2="463.10" y2="377.00" stroke="#444" stroke-width="0.9" stroke-linecap="butt"/>
<line x1="477.00" y1="358.30" x2="477.00" y2="366.90" stroke="#444" stroke-width="0.9" stroke-linecap="butt"/>
<line x1="474.20" y1="358.30" x2="479.80" y2="358.30" stroke="#444" stroke-width="0.9" stroke-linecap="butt"/>
<line x1="474.20" y1="366.90" x2="479.80" y2="366.90" stroke="#444" stroke-width="0.9" stroke-linecap="butt"/>
<line x1="493.70" y1="327.70" x2="493.70" y2="341.00" stroke="#444" stroke-width="0.9" stroke-linecap="butt"/>
<line x1="490.90" y1="327.70" x2="496.50" y2="327.70" stroke="#444" stroke-width="0.9" stroke-linecap="butt"/>
<line x1="490.90" y1="341.00" x2="496.50" y2="341.00" stroke="#444" stroke-width="0.9" stroke-linecap="butt"/>
<polyline fill="none" stroke="#111" stroke-width="1.2" points="389.20,407.30 414.40,392.60 426.80,388.50 439.50,385.40 460.30,374.10 477.00,363.20 493.70,334.30"/>
<polygon points="389.20,404.25 386.20,409.80 392.20,409.80" fill="#0a0a0a"/>
<polygon points="414.40,389.55 411.40,395.10 417.40,395.10" fill="#0a0a0a"/>
<polygon points="426.80,385.45 423.80,391.00 429.80,391.00" fill="#0a0a0a"/>
<polygon points="439.50,382.35 436.50,387.90 442.50,387.90" fill="#0a0a0a"/>
<polygon points="460.30,371.05 457.30,376.60 463.30,376.60" fill="#0a0a0a"/>
<polygon points="477.00,360.15 474.00,365.70 480.00,365.70" fill="#0a0a0a"/>
<polygon points="493.70,331.25 490.70,336.80 496.70,336.80" fill="#0a0a0a"/>
<line x1="460.30" y1="354.50" x2="460.30" y2="363.20" stroke="#444" stroke-width="0.9" stroke-linecap="butt"/>
<line x1="457.50" y1="354.50" x2="463.10" y2="354.50" stroke="#444" stroke-width="0.9" stroke-linecap="butt"/>
<line x1="457.50" y1="363.20" x2="463.10" y2="363.20" stroke="#444" stroke-width="0.9" stroke-linecap="butt"/>
<line x1="477.00" y1="327.70" x2="477.00" y2="336.60" stroke="#444" stroke-width="0.9" stroke-linecap="butt"/>
<line x1="474.20" y1="327.70" x2="479.80" y2="327.70" stroke="#444" stroke-width="0.9" stroke-linecap="butt"/>
<line x1="474.20" y1="336.60" x2="479.80" y2="336.60" stroke="#444" stroke-width="0.9" stroke-linecap="butt"/>
<line x1="493.70" y1="275.20" x2="493.70" y2="286.20" stroke="#444" stroke-width="0.9" stroke-linecap="butt"/>
<line x1="490.90" y1="275.20" x2="496.50" y2="275.20" stroke="#444" stroke-width="0.9" stroke-linecap="butt"/>
<line x1="490.90" y1="286.20" x2="496.50" y2="286.20" stroke="#444" stroke-width="0.9" stroke-linecap="butt"/>
<polyline fill="none" stroke="#111" stroke-width="1.2" points="389.20,407.30 414.40,392.30 426.80,386.20 439.50,377.90 460.30,358.80 477.00,332.00 493.70,281.00"/>
<circle cx="389.20" cy="407.30" r="2.7" fill="#0a0a0a"/>
<circle cx="414.40" cy="392.30" r="2.7" fill="#0a0a0a"/>
<circle cx="426.80" cy="386.20" r="2.7" fill="#0a0a0a"/>
<circle cx="439.50" cy="377.90" r="2.7" fill="#0a0a0a"/>
<circle cx="460.30" cy="358.80" r="2.7" fill="#0a0a0a"/>
<circle cx="477.00" cy="332.00" r="2.7" fill="#0a0a0a"/>
<circle cx="493.70" cy="281.00" r="2.7" fill="#0a0a0a"/>
<line x1="392.60" y1="273.60" x2="401.80" y2="273.60" stroke="#111" stroke-width="1.1" stroke-linecap="butt"/>
<circle cx="397.20" cy="273.60" r="2.7" fill="#0a0a0a"/>
<text x="404.50" y="276.70" font-size="8.8" text-anchor="start" fill="#222">WT cIg</text>
<line x1="392.60" y1="288.30" x2="401.80" y2="288.30" stroke="#111" stroke-width="1.1" stroke-linecap="butt"/>
<polygon points="397.20,285.05 394.20,290.60 400.20,290.60" fill="#0a0a0a"/>
<text x="404.50" y="291.00" font-size="8.8" text-anchor="start" fill="#222">WT α-MR1</text>
<line x1="448.50" y1="269.70" x2="448.50" y2="290.50" stroke="#333" stroke-width="1.0" stroke-linecap="butt"/>
<text x="458.10" y="283.80" font-size="9.4" text-anchor="middle" font-weight="bold" fill="#111" letter-spacing="0.6">***</text>
<line x1="35.25" y1="484.20" x2="35.25" y2="619.60" stroke="#4c4c4c" stroke-width="1.15" stroke-linecap="butt"/>
<line x1="34.65" y1="619.00" x2="153.00" y2="619.00" stroke="#4c4c4c" stroke-width="1.15" stroke-linecap="butt"/>
<line x1="32.45" y1="619.00" x2="35.25" y2="619.00" stroke="#4c4c4c" stroke-width="1.15" stroke-linecap="butt"/>
<text x="28.85" y="621.60" font-size="8.7" text-anchor="end" fill="#222">0.0</text>
<line x1="32.45" y1="585.45" x2="35.25" y2="585.45" stroke="#4c4c4c" stroke-width="1.15" stroke-linecap="butt"/>
<text x="28.85" y="588.05" font-size="8.7" text-anchor="end" fill="#222">0.5</text>
<line x1="32.45" y1="551.90" x2="35.25" y2="551.90" stroke="#4c4c4c" stroke-width="1.15" stroke-linecap="butt"/>
<text x="28.85" y="554.50" font-size="8.7" text-anchor="end" fill="#222">1.0</text>
<line x1="32.45" y1="518.35" x2="35.25" y2="518.35" stroke="#4c4c4c" stroke-width="1.15" stroke-linecap="butt"/>
<text x="28.85" y="520.95" font-size="8.7" text-anchor="end" fill="#222">1.5</text>
<line x1="32.45" y1="484.80" x2="35.25" y2="484.80" stroke="#4c4c4c" stroke-width="1.15" stroke-linecap="butt"/>
<text x="28.85" y="487.40" font-size="8.7" text-anchor="end" fill="#222">2.0</text>
<line x1="35.25" y1="619.00" x2="35.25" y2="622.20" stroke="#4c4c4c" stroke-width="1.15" stroke-linecap="butt"/>
<line x1="63.25" y1="619.00" x2="63.25" y2="622.20" stroke="#4c4c4c" stroke-width="1.15" stroke-linecap="butt"/>
<line x1="91.25" y1="619.00" x2="91.25" y2="622.20" stroke="#4c4c4c" stroke-width="1.15" stroke-linecap="butt"/>
<line x1="119.25" y1="619.00" x2="119.25" y2="622.20" stroke="#4c4c4c" stroke-width="1.15" stroke-linecap="butt"/>
<line x1="147.25" y1="619.00" x2="147.25" y2="622.20" stroke="#4c4c4c" stroke-width="1.15" stroke-linecap="butt"/>
<text x="35.25" y="632.40" font-size="8.7" text-anchor="middle" fill="#222">0</text>
<text x="63.25" y="632.40" font-size="8.7" text-anchor="middle" fill="#222">50</text>
<text x="91.25" y="632.40" font-size="8.7" text-anchor="middle" fill="#222">100</text>
<text x="119.25" y="632.40" font-size="8.7" text-anchor="middle" fill="#222">150</text>
<text x="147.25" y="632.40" font-size="8.7" text-anchor="middle" fill="#222">200</text>
<text x="11.20" y="552.00" font-size="8.7" text-anchor="middle" transform="rotate(-90 11.20 552.00)" fill="#222">Tumor size (cm<tspan font-size="5.8" dy="-3.3">2</tspan><tspan dy="3.3">)</tspan></text>
<text x="93.50" y="643.50" font-size="8.8" text-anchor="middle" fill="#222">Days after MCA inoculation</text>
<text x="93.70" y="476.50" font-size="8.7" text-anchor="middle" fill="#222">cIg</text>
<text x="136.20" y="606.20" font-size="8.7" text-anchor="middle" fill="#222">(0/20)</text>
<polyline fill="none" stroke="#0a0a0a" stroke-width="0.95" stroke-linejoin="round" points="73.89,608.26 78.03,595.37 82.18,576.91 86.32,564.96 90.47,547.45 94.61,529.76"/>
<circle cx="73.89" cy="608.26" r="1.8" fill="#0a0a0a"/>
<circle cx="78.03" cy="595.37" r="1.8" fill="#0a0a0a"/>
<circle cx="82.18" cy="576.91" r="1.8" fill="#0a0a0a"/>
<circle cx="86.32" cy="564.96" r="1.8" fill="#0a0a0a"/>
<circle cx="90.47" cy="547.45" r="1.8" fill="#0a0a0a"/>
<circle cx="94.61" cy="529.76" r="1.8" fill="#0a0a0a"/>
<polyline fill="none" stroke="#0a0a0a" stroke-width="0.95" stroke-linejoin="round" points="74.45,609.61 78.71,598.41 82.96,582.91 87.22,565.41 91.47,554.89 95.73,533.11"/>
<circle cx="74.45" cy="609.61" r="1.8" fill="#0a0a0a"/>
<circle cx="78.71" cy="598.41" r="1.8" fill="#0a0a0a"/>
<circle cx="82.96" cy="582.91" r="1.8" fill="#0a0a0a"/>
<circle cx="87.22" cy="565.41" r="1.8" fill="#0a0a0a"/>
<circle cx="91.47" cy="554.89" r="1.8" fill="#0a0a0a"/>
<circle cx="95.73" cy="533.11" r="1.8" fill="#0a0a0a"/>
<polyline fill="none" stroke="#0a0a0a" stroke-width="0.95" stroke-linejoin="round" points="75.57,606.92 79.30,597.35 83.04,588.70 86.77,583.43 90.50,561.99 94.24,548.56 97.97,538.48"/>
<circle cx="75.57" cy="606.92" r="1.8" fill="#0a0a0a"/>
<circle cx="79.30" cy="597.35" r="1.8" fill="#0a0a0a"/>
<circle cx="83.04" cy="588.70" r="1.8" fill="#0a0a0a"/>
<circle cx="86.77" cy="583.43" r="1.8" fill="#0a0a0a"/>
<circle cx="90.50" cy="561.99" r="1.8" fill="#0a0a0a"/>
<circle cx="94.24" cy="548.56" r="1.8" fill="#0a0a0a"/>
<circle cx="97.97" cy="538.48" r="1.8" fill="#0a0a0a"/>
<polyline fill="none" stroke="#0a0a0a" stroke-width="0.95" stroke-linejoin="round" points="76.69,608.93 80.89,604.85 85.09,592.83 89.29,570.71 93.49,554.63 97.69,530.17 101.89,501.58"/>
<circle cx="76.69" cy="608.93" r="1.8" fill="#0a0a0a"/>
<circle cx="80.89" cy="604.85" r="1.8" fill="#0a0a0a"/>
<circle cx="85.09" cy="592.83" r="1.8" fill="#0a0a0a"/>
<circle cx="89.29" cy="570.71" r="1.8" fill="#0a0a0a"/>
<circle cx="93.49" cy="554.63" r="1.8" fill="#0a0a0a"/>
<circle cx="97.69" cy="530.17" r="1.8" fill="#0a0a0a"/>
<circle cx="101.89" cy="501.58" r="1.8" fill="#0a0a0a"/>
<polyline fill="none" stroke="#0a0a0a" stroke-width="0.95" stroke-linejoin="round" points="77.25,605.58 80.98,598.73 84.72,588.44 88.45,572.39 92.18,561.83 95.92,546.03 99.65,531.77"/>
<circle cx="77.25" cy="605.58" r="1.8" fill="#0a0a0a"/>
<circle cx="80.98" cy="598.73" r="1.8" fill="#0a0a0a"/>
<circle cx="84.72" cy="588.44" r="1.8" fill="#0a0a0a"/>
<circle cx="88.45" cy="572.39" r="1.8" fill="#0a0a0a"/>
<circle cx="92.18" cy="561.83" r="1.8" fill="#0a0a0a"/>
<circle cx="95.92" cy="546.03" r="1.8" fill="#0a0a0a"/>
<circle cx="99.65" cy="531.77" r="1.8" fill="#0a0a0a"/>
<polyline fill="none" stroke="#0a0a0a" stroke-width="0.95" stroke-linejoin="round" points="78.37,608.93 82.29,601.85 86.21,591.27 90.13,569.43 94.05,552.17 97.97,534.52 101.89,517.01"/>
<circle cx="78.37" cy="608.93" r="1.8" fill="#0a0a0a"/>
<circle cx="82.29" cy="601.85" r="1.8" fill="#0a0a0a"/>
<circle cx="86.21" cy="591.27" r="1.8" fill="#0a0a0a"/>
<circle cx="90.13" cy="569.43" r="1.8" fill="#0a0a0a"/>
<circle cx="94.05" cy="552.17" r="1.8" fill="#0a0a0a"/>
<circle cx="97.97" cy="534.52" r="1.8" fill="#0a0a0a"/>
<circle cx="101.89" cy="517.01" r="1.8" fill="#0a0a0a"/>
<polyline fill="none" stroke="#0a0a0a" stroke-width="0.95" stroke-linejoin="round" points="80.05,607.59 83.69,603.31 87.33,591.56 90.97,579.85 94.61,557.55 98.25,543.55 101.89,523.72"/>
<circle cx="80.05" cy="607.59" r="1.8" fill="#0a0a0a"/>
<circle cx="83.69" cy="603.31" r="1.8" fill="#0a0a0a"/>
<circle cx="87.33" cy="591.56" r="1.8" fill="#0a0a0a"/>
<circle cx="90.97" cy="579.85" r="1.8" fill="#0a0a0a"/>
<circle cx="94.61" cy="557.55" r="1.8" fill="#0a0a0a"/>
<circle cx="98.25" cy="543.55" r="1.8" fill="#0a0a0a"/>
<circle cx="101.89" cy="523.72" r="1.8" fill="#0a0a0a"/>
<polyline fill="none" stroke="#0a0a0a" stroke-width="0.95" stroke-linejoin="round" points="80.05,609.61 83.97,598.05 87.89,588.49 91.81,584.05 95.73,568.37 99.65,546.99 103.57,535.12"/>
<circle cx="80.05" cy="609.61" r="1.8" fill="#0a0a0a"/>
<circle cx="83.97" cy="598.05" r="1.8" fill="#0a0a0a"/>
<circle cx="87.89" cy="588.49" r="1.8" fill="#0a0a0a"/>
<circle cx="91.81" cy="584.05" r="1.8" fill="#0a0a0a"/>
<circle cx="95.73" cy="568.37" r="1.8" fill="#0a0a0a"/>
<circle cx="99.65" cy="546.99" r="1.8" fill="#0a0a0a"/>
<circle cx="103.57" cy="535.12" r="1.8" fill="#0a0a0a"/>
<polyline fill="none" stroke="#0a0a0a" stroke-width="0.95" stroke-linejoin="round" points="82.29,608.26 86.21,602.73 90.13,595.12 94.05,576.79 97.97,560.38 101.89,548.57 105.81,528.41"/>
<circle cx="82.29" cy="608.26" r="1.8" fill="#0a0a0a"/>
<circle cx="86.21" cy="602.73" r="1.8" fill="#0a0a0a"/>
<circle cx="90.13" cy="595.12" r="1.8" fill="#0a0a0a"/>
<circle cx="94.05" cy="576.79" r="1.8" fill="#0a0a0a"/>
<circle cx="97.97" cy="560.38" r="1.8" fill="#0a0a0a"/>
<circle cx="101.89" cy="548.57" r="1.8" fill="#0a0a0a"/>
<circle cx="105.81" cy="528.41" r="1.8" fill="#0a0a0a"/>
<polyline fill="none" stroke="#0a0a0a" stroke-width="0.95" stroke-linejoin="round" points="82.29,605.58 86.21,595.34 90.13,588.68 94.05,584.64 97.97,572.31 101.89,561.68 105.81,545.19"/>
<circle cx="82.29" cy="605.58" r="1.8" fill="#0a0a0a"/>
<circle cx="86.21" cy="595.34" r="1.8" fill="#0a0a0a"/>
<circle cx="90.13" cy="588.68" r="1.8" fill="#0a0a0a"/>
<circle cx="94.05" cy="584.64" r="1.8" fill="#0a0a0a"/>
<circle cx="97.97" cy="572.31" r="1.8" fill="#0a0a0a"/>
<circle cx="101.89" cy="561.68" r="1.8" fill="#0a0a0a"/>
<circle cx="105.81" cy="545.19" r="1.8" fill="#0a0a0a"/>
<polyline fill="none" stroke="#0a0a0a" stroke-width="0.95" stroke-linejoin="round" points="84.53,608.93 88.73,605.52 92.93,591.37 97.13,579.43 101.33,566.96 105.53,545.42 109.73,529.76"/>
<circle cx="84.53" cy="608.93" r="1.8" fill="#0a0a0a"/>
<circle cx="88.73" cy="605.52" r="1.8" fill="#0a0a0a"/>
<circle cx="92.93" cy="591.37" r="1.8" fill="#0a0a0a"/>
<circle cx="97.13" cy="579.43" r="1.8" fill="#0a0a0a"/>
<circle cx="101.33" cy="566.96" r="1.8" fill="#0a0a0a"/>
<circle cx="105.53" cy="545.42" r="1.8" fill="#0a0a0a"/>
<circle cx="109.73" cy="529.76" r="1.8" fill="#0a0a0a"/>
<polyline fill="none" stroke="#0a0a0a" stroke-width="0.95" stroke-linejoin="round" points="85.65,609.61 89.38,607.59 93.12,596.52 96.85,588.87 100.58,577.70 104.32,559.65 108.05,551.90"/>
<circle cx="85.65" cy="609.61" r="1.8" fill="#0a0a0a"/>
<circle cx="89.38" cy="607.59" r="1.8" fill="#0a0a0a"/>
<circle cx="93.12" cy="596.52" r="1.8" fill="#0a0a0a"/>
<circle cx="96.85" cy="588.87" r="1.8" fill="#0a0a0a"/>
<circle cx="100.58" cy="577.70" r="1.8" fill="#0a0a0a"/>
<circle cx="104.32" cy="559.65" r="1.8" fill="#0a0a0a"/>
<circle cx="108.05" cy="551.90" r="1.8" fill="#0a0a0a"/>
<polyline fill="none" stroke="#0a0a0a" stroke-width="0.95" stroke-linejoin="round" points="86.21,606.92 90.13,598.65 94.05,596.47 97.97,583.72 101.89,566.34 105.81,553.52 109.73,538.48"/>
<circle cx="86.21" cy="606.92" r="1.8" fill="#0a0a0a"/>
<circle cx="90.13" cy="598.65" r="1.8" fill="#0a0a0a"/>
<circle cx="94.05" cy="596.47" r="1.8" fill="#0a0a0a"/>
<circle cx="97.97" cy="583.72" r="1.8" fill="#0a0a0a"/>
<circle cx="101.89" cy="566.34" r="1.8" fill="#0a0a0a"/>
<circle cx="105.81" cy="553.52" r="1.8" fill="#0a0a0a"/>
<circle cx="109.73" cy="538.48" r="1.8" fill="#0a0a0a"/>
<polyline fill="none" stroke="#0a0a0a" stroke-width="0.95" stroke-linejoin="round" points="88.45,608.93 92.65,606.47 96.85,596.61 101.05,579.57 105.25,569.27 109.45,553.17 113.65,533.11"/>
<circle cx="88.45" cy="608.93" r="1.8" fill="#0a0a0a"/>
<circle cx="92.65" cy="606.47" r="1.8" fill="#0a0a0a"/>
<circle cx="96.85" cy="596.61" r="1.8" fill="#0a0a0a"/>
<circle cx="101.05" cy="579.57" r="1.8" fill="#0a0a0a"/>
<circle cx="105.25" cy="569.27" r="1.8" fill="#0a0a0a"/>
<circle cx="109.45" cy="553.17" r="1.8" fill="#0a0a0a"/>
<circle cx="113.65" cy="533.11" r="1.8" fill="#0a0a0a"/>
<polyline fill="none" stroke="#0a0a0a" stroke-width="0.95" stroke-linejoin="round" points="90.13,609.61 93.77,601.45 97.41,593.84 101.05,577.86 104.69,566.05 108.33,550.22 111.97,533.78"/>
<circle cx="90.13" cy="609.61" r="1.8" fill="#0a0a0a"/>
<circle cx="93.77" cy="601.45" r="1.8" fill="#0a0a0a"/>
<circle cx="97.41" cy="593.84" r="1.8" fill="#0a0a0a"/>
<circle cx="101.05" cy="577.86" r="1.8" fill="#0a0a0a"/>
<circle cx="104.69" cy="566.05" r="1.8" fill="#0a0a0a"/>
<circle cx="108.33" cy="550.22" r="1.8" fill="#0a0a0a"/>
<circle cx="111.97" cy="533.78" r="1.8" fill="#0a0a0a"/>
<polyline fill="none" stroke="#0a0a0a" stroke-width="0.95" stroke-linejoin="round" points="90.13,605.58 94.05,600.24 97.97,589.89 101.89,586.95 105.81,576.50 109.73,557.56 113.65,548.54"/>
<circle cx="90.13" cy="605.58" r="1.8" fill="#0a0a0a"/>
<circle cx="94.05" cy="600.24" r="1.8" fill="#0a0a0a"/>
<circle cx="97.97" cy="589.89" r="1.8" fill="#0a0a0a"/>
<circle cx="101.89" cy="586.95" r="1.8" fill="#0a0a0a"/>
<circle cx="105.81" cy="576.50" r="1.8" fill="#0a0a0a"/>
<circle cx="109.73" cy="557.56" r="1.8" fill="#0a0a0a"/>
<circle cx="113.65" cy="548.54" r="1.8" fill="#0a0a0a"/>
<polyline fill="none" stroke="#0a0a0a" stroke-width="0.95" stroke-linejoin="round" points="92.37,608.93 96.29,605.68 100.21,590.40 104.13,576.07 108.05,568.80 111.97,545.96 115.89,533.11"/>
<circle cx="92.37" cy="608.93" r="1.8" fill="#0a0a0a"/>
<circle cx="96.29" cy="605.68" r="1.8" fill="#0a0a0a"/>
<circle cx="100.21" cy="590.40" r="1.8" fill="#0a0a0a"/>
<circle cx="104.13" cy="576.07" r="1.8" fill="#0a0a0a"/>
<circle cx="108.05" cy="568.80" r="1.8" fill="#0a0a0a"/>
<circle cx="111.97" cy="545.96" r="1.8" fill="#0a0a0a"/>
<circle cx="115.89" cy="533.11" r="1.8" fill="#0a0a0a"/>
<polyline fill="none" stroke="#0a0a0a" stroke-width="0.95" stroke-linejoin="round" points="94.05,608.26 97.97,602.75 101.89,594.29 105.81,580.10 109.73,553.88 113.65,540.79 117.57,516.34"/>
<circle cx="94.05" cy="608.26" r="1.8" fill="#0a0a0a"/>
<circle cx="97.97" cy="602.75" r="1.8" fill="#0a0a0a"/>
<circle cx="101.89" cy="594.29" r="1.8" fill="#0a0a0a"/>
<circle cx="105.81" cy="580.10" r="1.8" fill="#0a0a0a"/>
<circle cx="109.73" cy="553.88" r="1.8" fill="#0a0a0a"/>
<circle cx="113.65" cy="540.79" r="1.8" fill="#0a0a0a"/>
<circle cx="117.57" cy="516.34" r="1.8" fill="#0a0a0a"/>
<polyline fill="none" stroke="#0a0a0a" stroke-width="0.95" stroke-linejoin="round" points="95.73,609.61 99.37,601.49 103.01,593.31 106.65,582.11 110.29,566.01 113.93,540.87 117.57,520.36"/>
<circle cx="95.73" cy="609.61" r="1.8" fill="#0a0a0a"/>
<circle cx="99.37" cy="601.49" r="1.8" fill="#0a0a0a"/>
<circle cx="103.01" cy="593.31" r="1.8" fill="#0a0a0a"/>
<circle cx="106.65" cy="582.11" r="1.8" fill="#0a0a0a"/>
<circle cx="110.29" cy="566.01" r="1.8" fill="#0a0a0a"/>
<circle cx="113.93" cy="540.87" r="1.8" fill="#0a0a0a"/>
<circle cx="117.57" cy="520.36" r="1.8" fill="#0a0a0a"/>
<polyline fill="none" stroke="#0a0a0a" stroke-width="0.95" stroke-linejoin="round" points="101.50,607.12 105.42,598.20 109.39,593.50 112.92,586.12 116.84,565.99 120.87,553.91 124.91,534.45"/>
<circle cx="101.50" cy="607.12" r="1.8" fill="#0a0a0a"/>
<circle cx="105.42" cy="598.20" r="1.8" fill="#0a0a0a"/>
<circle cx="109.39" cy="593.50" r="1.8" fill="#0a0a0a"/>
<circle cx="112.92" cy="586.12" r="1.8" fill="#0a0a0a"/>
<circle cx="116.84" cy="565.99" r="1.8" fill="#0a0a0a"/>
<circle cx="120.87" cy="553.91" r="1.8" fill="#0a0a0a"/>
<circle cx="124.91" cy="534.45" r="1.8" fill="#0a0a0a"/>
<line x1="208.10" y1="484.20" x2="208.10" y2="619.60" stroke="#4c4c4c" stroke-width="1.15" stroke-linecap="butt"/>
<line x1="207.50" y1="619.00" x2="325.00" y2="619.00" stroke="#4c4c4c" stroke-width="1.15" stroke-linecap="butt"/>
<line x1="205.30" y1="619.00" x2="208.10" y2="619.00" stroke="#4c4c4c" stroke-width="1.15" stroke-linecap="butt"/>
<text x="201.70" y="621.60" font-size="8.7" text-anchor="end" fill="#222">0.0</text>
<line x1="205.30" y1="585.45" x2="208.10" y2="585.45" stroke="#4c4c4c" stroke-width="1.15" stroke-linecap="butt"/>
<text x="201.70" y="588.05" font-size="8.7" text-anchor="end" fill="#222">0.5</text>
<line x1="205.30" y1="551.90" x2="208.10" y2="551.90" stroke="#4c4c4c" stroke-width="1.15" stroke-linecap="butt"/>
<text x="201.70" y="554.50" font-size="8.7" text-anchor="end" fill="#222">1.0</text>
<line x1="205.30" y1="518.35" x2="208.10" y2="518.35" stroke="#4c4c4c" stroke-width="1.15" stroke-linecap="butt"/>
<text x="201.70" y="520.95" font-size="8.7" text-anchor="end" fill="#222">1.5</text>
<line x1="205.30" y1="484.80" x2="208.10" y2="484.80" stroke="#4c4c4c" stroke-width="1.15" stroke-linecap="butt"/>
<text x="201.70" y="487.40" font-size="8.7" text-anchor="end" fill="#222">2.0</text>
<line x1="208.10" y1="619.00" x2="208.10" y2="622.20" stroke="#4c4c4c" stroke-width="1.15" stroke-linecap="butt"/>
<line x1="236.10" y1="619.00" x2="236.10" y2="622.20" stroke="#4c4c4c" stroke-width="1.15" stroke-linecap="butt"/>
<line x1="264.10" y1="619.00" x2="264.10" y2="622.20" stroke="#4c4c4c" stroke-width="1.15" stroke-linecap="butt"/>
<line x1="292.10" y1="619.00" x2="292.10" y2="622.20" stroke="#4c4c4c" stroke-width="1.15" stroke-linecap="butt"/>
<line x1="320.10" y1="619.00" x2="320.10" y2="622.20" stroke="#4c4c4c" stroke-width="1.15" stroke-linecap="butt"/>
<text x="208.10" y="632.40" font-size="8.7" text-anchor="middle" fill="#222">0</text>
<text x="236.10" y="632.40" font-size="8.7" text-anchor="middle" fill="#222">50</text>
<text x="264.10" y="632.40" font-size="8.7" text-anchor="middle" fill="#222">100</text>
<text x="292.10" y="632.40" font-size="8.7" text-anchor="middle" fill="#222">150</text>
<text x="320.10" y="632.40" font-size="8.7" text-anchor="middle" fill="#222">200</text>
<text x="184.20" y="552.00" font-size="8.7" text-anchor="middle" transform="rotate(-90 184.20 552.00)" fill="#222">Tumor size (cm<tspan font-size="5.8" dy="-3.3">2</tspan><tspan dy="3.3">)</tspan></text>
<text x="266.30" y="643.50" font-size="8.8" text-anchor="middle" fill="#222">Days after MCA inoculation</text>
<text x="267.00" y="476.50" font-size="8.7" text-anchor="middle" fill="#222">α-MR1</text>
<text x="310.00" y="606.20" font-size="8.7" text-anchor="middle" fill="#222">(3/21)</text>
<polyline fill="none" stroke="#0a0a0a" stroke-width="0.95" stroke-linejoin="round" points="246.74,604.24 250.66,595.51 254.58,588.80 257.94,583.44 261.30,575.38 264.66,568.67 268.02,556.60 271.38,542.51 275.30,519.02"/>
<circle cx="246.74" cy="604.24" r="1.8" fill="#0a0a0a"/>
<circle cx="250.66" cy="595.51" r="1.8" fill="#0a0a0a"/>
<circle cx="254.58" cy="588.80" r="1.8" fill="#0a0a0a"/>
<circle cx="257.94" cy="583.44" r="1.8" fill="#0a0a0a"/>
<circle cx="261.30" cy="575.38" r="1.8" fill="#0a0a0a"/>
<circle cx="264.66" cy="568.67" r="1.8" fill="#0a0a0a"/>
<circle cx="268.02" cy="556.60" r="1.8" fill="#0a0a0a"/>
<circle cx="271.38" cy="542.51" r="1.8" fill="#0a0a0a"/>
<circle cx="275.30" cy="519.02" r="1.8" fill="#0a0a0a"/>
<polyline fill="none" stroke="#0a0a0a" stroke-width="0.95" stroke-linejoin="round" points="247.30,608.93 251.28,601.22 255.26,592.27 259.25,588.62 263.23,586.07 267.21,576.43 271.19,568.62 275.18,556.17 279.16,540.60 283.14,524.39"/>
<circle cx="247.30" cy="608.93" r="1.8" fill="#0a0a0a"/>
<circle cx="251.28" cy="601.22" r="1.8" fill="#0a0a0a"/>
<circle cx="255.26" cy="592.27" r="1.8" fill="#0a0a0a"/>
<circle cx="259.25" cy="588.62" r="1.8" fill="#0a0a0a"/>
<circle cx="263.23" cy="586.07" r="1.8" fill="#0a0a0a"/>
<circle cx="267.21" cy="576.43" r="1.8" fill="#0a0a0a"/>
<circle cx="271.19" cy="568.62" r="1.8" fill="#0a0a0a"/>
<circle cx="275.18" cy="556.17" r="1.8" fill="#0a0a0a"/>
<circle cx="279.16" cy="540.60" r="1.8" fill="#0a0a0a"/>
<circle cx="283.14" cy="524.39" r="1.8" fill="#0a0a0a"/>
<polyline fill="none" stroke="#0a0a0a" stroke-width="0.95" stroke-linejoin="round" points="248.42,606.92 252.23,603.89 256.04,596.82 259.84,589.91 263.65,589.22 267.46,582.35 271.27,572.72 275.08,561.69 278.88,551.38 282.69,538.64 286.50,526.40"/>
<circle cx="248.42" cy="606.92" r="1.8" fill="#0a0a0a"/>
<circle cx="252.23" cy="603.89" r="1.8" fill="#0a0a0a"/>
<circle cx="256.04" cy="596.82" r="1.8" fill="#0a0a0a"/>
<circle cx="259.84" cy="589.91" r="1.8" fill="#0a0a0a"/>
<circle cx="263.65" cy="589.22" r="1.8" fill="#0a0a0a"/>
<circle cx="267.46" cy="582.35" r="1.8" fill="#0a0a0a"/>
<circle cx="271.27" cy="572.72" r="1.8" fill="#0a0a0a"/>
<circle cx="275.08" cy="561.69" r="1.8" fill="#0a0a0a"/>
<circle cx="278.88" cy="551.38" r="1.8" fill="#0a0a0a"/>
<circle cx="282.69" cy="538.64" r="1.8" fill="#0a0a0a"/>
<circle cx="286.50" cy="526.40" r="1.8" fill="#0a0a0a"/>
<polyline fill="none" stroke="#0a0a0a" stroke-width="0.95" stroke-linejoin="round" points="250.10,608.93 253.77,607.78 257.43,603.15 261.10,590.23 264.76,587.81 268.43,581.07 272.09,585.72 275.76,574.52 279.42,563.72 283.09,549.59 286.75,537.69 290.42,522.38"/>
<circle cx="250.10" cy="608.93" r="1.8" fill="#0a0a0a"/>
<circle cx="253.77" cy="607.78" r="1.8" fill="#0a0a0a"/>
<circle cx="257.43" cy="603.15" r="1.8" fill="#0a0a0a"/>
<circle cx="261.10" cy="590.23" r="1.8" fill="#0a0a0a"/>
<circle cx="264.76" cy="587.81" r="1.8" fill="#0a0a0a"/>
<circle cx="268.43" cy="581.07" r="1.8" fill="#0a0a0a"/>
<circle cx="272.09" cy="585.72" r="1.8" fill="#0a0a0a"/>
<circle cx="275.76" cy="574.52" r="1.8" fill="#0a0a0a"/>
<circle cx="279.42" cy="563.72" r="1.8" fill="#0a0a0a"/>
<circle cx="283.09" cy="549.59" r="1.8" fill="#0a0a0a"/>
<circle cx="286.75" cy="537.69" r="1.8" fill="#0a0a0a"/>
<circle cx="290.42" cy="522.38" r="1.8" fill="#0a0a0a"/>
<polyline fill="none" stroke="#0a0a0a" stroke-width="0.95" stroke-linejoin="round" points="251.22,605.58 255.14,599.58 259.06,592.96 262.98,586.86 266.90,583.97 270.82,580.84 274.74,570.77 278.66,558.68 282.58,548.89 286.50,535.12"/>
<circle cx="251.22" cy="605.58" r="1.8" fill="#0a0a0a"/>
<circle cx="255.14" cy="599.58" r="1.8" fill="#0a0a0a"/>
<circle cx="259.06" cy="592.96" r="1.8" fill="#0a0a0a"/>
<circle cx="262.98" cy="586.86" r="1.8" fill="#0a0a0a"/>
<circle cx="266.90" cy="583.97" r="1.8" fill="#0a0a0a"/>
<circle cx="270.82" cy="580.84" r="1.8" fill="#0a0a0a"/>
<circle cx="274.74" cy="570.77" r="1.8" fill="#0a0a0a"/>
<circle cx="278.66" cy="558.68" r="1.8" fill="#0a0a0a"/>
<circle cx="282.58" cy="548.89" r="1.8" fill="#0a0a0a"/>
<circle cx="286.50" cy="535.12" r="1.8" fill="#0a0a0a"/>
<polyline fill="none" stroke="#0a0a0a" stroke-width="0.95" stroke-linejoin="round" points="252.90,608.93 256.65,598.94 260.40,597.56 264.16,588.71 267.91,582.85 271.66,580.54 275.41,574.40 279.16,566.01 282.92,554.46 286.67,543.05 290.42,531.77"/>
<circle cx="252.90" cy="608.93" r="1.8" fill="#0a0a0a"/>
<circle cx="256.65" cy="598.94" r="1.8" fill="#0a0a0a"/>
<circle cx="260.40" cy="597.56" r="1.8" fill="#0a0a0a"/>
<circle cx="264.16" cy="588.71" r="1.8" fill="#0a0a0a"/>
<circle cx="267.91" cy="582.85" r="1.8" fill="#0a0a0a"/>
<circle cx="271.66" cy="580.54" r="1.8" fill="#0a0a0a"/>
<circle cx="275.41" cy="574.40" r="1.8" fill="#0a0a0a"/>
<circle cx="279.16" cy="566.01" r="1.8" fill="#0a0a0a"/>
<circle cx="282.92" cy="554.46" r="1.8" fill="#0a0a0a"/>
<circle cx="286.67" cy="543.05" r="1.8" fill="#0a0a0a"/>
<circle cx="290.42" cy="531.77" r="1.8" fill="#0a0a0a"/>
<polyline fill="none" stroke="#0a0a0a" stroke-width="0.95" stroke-linejoin="round" points="254.02,608.26 258.00,598.41 261.97,594.96 265.95,592.10 269.92,591.14 273.90,583.85 277.88,581.71 281.85,571.88 285.83,557.22 289.80,546.94 293.78,530.43"/>
<circle cx="254.02" cy="608.26" r="1.8" fill="#0a0a0a"/>
<circle cx="258.00" cy="598.41" r="1.8" fill="#0a0a0a"/>
<circle cx="261.97" cy="594.96" r="1.8" fill="#0a0a0a"/>
<circle cx="265.95" cy="592.10" r="1.8" fill="#0a0a0a"/>
<circle cx="269.92" cy="591.14" r="1.8" fill="#0a0a0a"/>
<circle cx="273.90" cy="583.85" r="1.8" fill="#0a0a0a"/>
<circle cx="277.88" cy="581.71" r="1.8" fill="#0a0a0a"/>
<circle cx="281.85" cy="571.88" r="1.8" fill="#0a0a0a"/>
<circle cx="285.83" cy="557.22" r="1.8" fill="#0a0a0a"/>
<circle cx="289.80" cy="546.94" r="1.8" fill="#0a0a0a"/>
<circle cx="293.78" cy="530.43" r="1.8" fill="#0a0a0a"/>
<polyline fill="none" stroke="#0a0a0a" stroke-width="0.95" stroke-linejoin="round" points="255.14,605.58 259.06,599.86 262.98,596.85 266.90,595.29 270.82,587.10 274.74,585.18 278.66,575.68 282.58,563.54 286.50,555.12 290.42,541.84"/>
<circle cx="255.14" cy="605.58" r="1.8" fill="#0a0a0a"/>
<circle cx="259.06" cy="599.86" r="1.8" fill="#0a0a0a"/>
<circle cx="262.98" cy="596.85" r="1.8" fill="#0a0a0a"/>
<circle cx="266.90" cy="595.29" r="1.8" fill="#0a0a0a"/>
<circle cx="270.82" cy="587.10" r="1.8" fill="#0a0a0a"/>
<circle cx="274.74" cy="585.18" r="1.8" fill="#0a0a0a"/>
<circle cx="278.66" cy="575.68" r="1.8" fill="#0a0a0a"/>
<circle cx="282.58" cy="563.54" r="1.8" fill="#0a0a0a"/>
<circle cx="286.50" cy="555.12" r="1.8" fill="#0a0a0a"/>
<circle cx="290.42" cy="541.84" r="1.8" fill="#0a0a0a"/>
<polyline fill="none" stroke="#0a0a0a" stroke-width="0.95" stroke-linejoin="round" points="257.38,608.93 261.02,602.20 264.66,602.28 268.30,598.43 271.94,587.49 275.58,585.88 279.22,581.86 282.86,569.95 286.50,561.69 290.14,548.48 293.78,537.14"/>
<circle cx="257.38" cy="608.93" r="1.8" fill="#0a0a0a"/>
<circle cx="261.02" cy="602.20" r="1.8" fill="#0a0a0a"/>
<circle cx="264.66" cy="602.28" r="1.8" fill="#0a0a0a"/>
<circle cx="268.30" cy="598.43" r="1.8" fill="#0a0a0a"/>
<circle cx="271.94" cy="587.49" r="1.8" fill="#0a0a0a"/>
<circle cx="275.58" cy="585.88" r="1.8" fill="#0a0a0a"/>
<circle cx="279.22" cy="581.86" r="1.8" fill="#0a0a0a"/>
<circle cx="282.86" cy="569.95" r="1.8" fill="#0a0a0a"/>
<circle cx="286.50" cy="561.69" r="1.8" fill="#0a0a0a"/>
<circle cx="290.14" cy="548.48" r="1.8" fill="#0a0a0a"/>
<circle cx="293.78" cy="537.14" r="1.8" fill="#0a0a0a"/>
<polyline fill="none" stroke="#0a0a0a" stroke-width="0.95" stroke-linejoin="round" points="261.30,608.26 264.94,598.84 268.58,592.15 272.22,587.08 275.86,585.99 279.50,574.43 283.14,562.73 286.78,549.56 290.42,533.11"/>
<circle cx="261.30" cy="608.26" r="1.8" fill="#0a0a0a"/>
<circle cx="264.94" cy="598.84" r="1.8" fill="#0a0a0a"/>
<circle cx="268.58" cy="592.15" r="1.8" fill="#0a0a0a"/>
<circle cx="272.22" cy="587.08" r="1.8" fill="#0a0a0a"/>
<circle cx="275.86" cy="585.99" r="1.8" fill="#0a0a0a"/>
<circle cx="279.50" cy="574.43" r="1.8" fill="#0a0a0a"/>
<circle cx="283.14" cy="562.73" r="1.8" fill="#0a0a0a"/>
<circle cx="286.78" cy="549.56" r="1.8" fill="#0a0a0a"/>
<circle cx="290.42" cy="533.11" r="1.8" fill="#0a0a0a"/>
<polyline fill="none" stroke="#0a0a0a" stroke-width="0.95" stroke-linejoin="round" points="270.82,608.26 274.74,595.50 278.66,588.19 282.58,566.65 286.50,545.19"/>
<circle cx="270.82" cy="608.26" r="1.8" fill="#0a0a0a"/>
<circle cx="274.74" cy="595.50" r="1.8" fill="#0a0a0a"/>
<circle cx="278.66" cy="588.19" r="1.8" fill="#0a0a0a"/>
<circle cx="282.58" cy="566.65" r="1.8" fill="#0a0a0a"/>
<circle cx="286.50" cy="545.19" r="1.8" fill="#0a0a0a"/>
<polyline fill="none" stroke="#0a0a0a" stroke-width="0.95" stroke-linejoin="round" points="256.26,607.59 260.24,602.01 264.22,598.43 268.21,594.03 272.19,587.35 276.17,581.16 280.15,570.76 284.14,558.43 288.12,541.76 292.10,528.41"/>
<circle cx="256.26" cy="607.59" r="1.8" fill="#0a0a0a"/>
<circle cx="260.24" cy="602.01" r="1.8" fill="#0a0a0a"/>
<circle cx="264.22" cy="598.43" r="1.8" fill="#0a0a0a"/>
<circle cx="268.21" cy="594.03" r="1.8" fill="#0a0a0a"/>
<circle cx="272.19" cy="587.35" r="1.8" fill="#0a0a0a"/>
<circle cx="276.17" cy="581.16" r="1.8" fill="#0a0a0a"/>
<circle cx="280.15" cy="570.76" r="1.8" fill="#0a0a0a"/>
<circle cx="284.14" cy="558.43" r="1.8" fill="#0a0a0a"/>
<circle cx="288.12" cy="541.76" r="1.8" fill="#0a0a0a"/>
<circle cx="292.10" cy="528.41" r="1.8" fill="#0a0a0a"/>
<polyline fill="none" stroke="#0a0a0a" stroke-width="0.95" stroke-linejoin="round" points="313.10,519.02 309.07,534.45 305.32,547.20 301.23,556.60 297.76,568.67 293.72,578.07 290.20,586.12 286.44,592.83 282.97,596.86 279.22,600.21 275.30,602.23 271.38,605.58 267.46,605.58"/>
<circle cx="313.10" cy="519.02" r="1.8" fill="#0a0a0a"/>
<circle cx="309.07" cy="534.45" r="1.8" fill="#0a0a0a"/>
<circle cx="305.32" cy="547.20" r="1.8" fill="#0a0a0a"/>
<circle cx="301.23" cy="556.60" r="1.8" fill="#0a0a0a"/>
<circle cx="297.76" cy="568.67" r="1.8" fill="#0a0a0a"/>
<circle cx="293.72" cy="578.07" r="1.8" fill="#0a0a0a"/>
<circle cx="290.20" cy="586.12" r="1.8" fill="#0a0a0a"/>
<circle cx="286.44" cy="592.83" r="1.8" fill="#0a0a0a"/>
<circle cx="282.97" cy="596.86" r="1.8" fill="#0a0a0a"/>
<circle cx="279.22" cy="600.21" r="1.8" fill="#0a0a0a"/>
<circle cx="275.30" cy="602.23" r="1.8" fill="#0a0a0a"/>
<circle cx="271.38" cy="605.58" r="1.8" fill="#0a0a0a"/>
<circle cx="267.46" cy="605.58" r="1.8" fill="#0a0a0a"/>
<polyline fill="none" stroke="#0a0a0a" stroke-width="0.95" stroke-linejoin="round" points="307.22,555.25 303.13,564.65 299.66,574.04 295.85,581.42 292.38,588.80 288.35,594.17 284.26,598.20 280.34,600.88 276.42,604.24 272.50,605.58 268.58,606.92"/>
<circle cx="307.22" cy="555.25" r="1.8" fill="#0a0a0a"/>
<circle cx="303.13" cy="564.65" r="1.8" fill="#0a0a0a"/>
<circle cx="299.66" cy="574.04" r="1.8" fill="#0a0a0a"/>
<circle cx="295.85" cy="581.42" r="1.8" fill="#0a0a0a"/>
<circle cx="292.38" cy="588.80" r="1.8" fill="#0a0a0a"/>
<circle cx="288.35" cy="594.17" r="1.8" fill="#0a0a0a"/>
<circle cx="284.26" cy="598.20" r="1.8" fill="#0a0a0a"/>
<circle cx="280.34" cy="600.88" r="1.8" fill="#0a0a0a"/>
<circle cx="276.42" cy="604.24" r="1.8" fill="#0a0a0a"/>
<circle cx="272.50" cy="605.58" r="1.8" fill="#0a0a0a"/>
<circle cx="268.58" cy="606.92" r="1.8" fill="#0a0a0a"/>
<polyline fill="none" stroke="#0a0a0a" stroke-width="0.95" stroke-linejoin="round" points="302.35,522.38 298.54,537.14 295.07,553.91 291.54,567.33 287.79,578.07 284.26,586.12 280.51,592.16 276.70,596.86 273.06,600.88 269.14,605.58 265.22,606.92"/>
<circle cx="302.35" cy="522.38" r="1.8" fill="#0a0a0a"/>
<circle cx="298.54" cy="537.14" r="1.8" fill="#0a0a0a"/>
<circle cx="295.07" cy="553.91" r="1.8" fill="#0a0a0a"/>
<circle cx="291.54" cy="567.33" r="1.8" fill="#0a0a0a"/>
<circle cx="287.79" cy="578.07" r="1.8" fill="#0a0a0a"/>
<circle cx="284.26" cy="586.12" r="1.8" fill="#0a0a0a"/>
<circle cx="280.51" cy="592.16" r="1.8" fill="#0a0a0a"/>
<circle cx="276.70" cy="596.86" r="1.8" fill="#0a0a0a"/>
<circle cx="273.06" cy="600.88" r="1.8" fill="#0a0a0a"/>
<circle cx="269.14" cy="605.58" r="1.8" fill="#0a0a0a"/>
<circle cx="265.22" cy="606.92" r="1.8" fill="#0a0a0a"/>
<polyline fill="none" stroke="#0a0a0a" stroke-width="0.95" stroke-linejoin="round" points="301.62,526.40 297.70,541.84 293.78,558.61 289.86,570.69 285.94,582.10 282.02,588.80 278.10,593.50 274.18,598.87 270.26,602.23 266.34,605.58"/>
<circle cx="301.62" cy="526.40" r="1.8" fill="#0a0a0a"/>
<circle cx="297.70" cy="541.84" r="1.8" fill="#0a0a0a"/>
<circle cx="293.78" cy="558.61" r="1.8" fill="#0a0a0a"/>
<circle cx="289.86" cy="570.69" r="1.8" fill="#0a0a0a"/>
<circle cx="285.94" cy="582.10" r="1.8" fill="#0a0a0a"/>
<circle cx="282.02" cy="588.80" r="1.8" fill="#0a0a0a"/>
<circle cx="278.10" cy="593.50" r="1.8" fill="#0a0a0a"/>
<circle cx="274.18" cy="598.87" r="1.8" fill="#0a0a0a"/>
<circle cx="270.26" cy="602.23" r="1.8" fill="#0a0a0a"/>
<circle cx="266.34" cy="605.58" r="1.8" fill="#0a0a0a"/>
<polyline fill="none" stroke="#0a0a0a" stroke-width="0.95" stroke-linejoin="round" points="297.70,539.82 293.78,551.90 289.86,563.98 285.94,574.71 282.02,584.11 278.10,590.82 274.18,594.84 270.26,598.87 266.34,602.90 262.42,605.58"/>
<circle cx="297.70" cy="539.82" r="1.8" fill="#0a0a0a"/>
<circle cx="293.78" cy="551.90" r="1.8" fill="#0a0a0a"/>
<circle cx="289.86" cy="563.98" r="1.8" fill="#0a0a0a"/>
<circle cx="285.94" cy="574.71" r="1.8" fill="#0a0a0a"/>
<circle cx="282.02" cy="584.11" r="1.8" fill="#0a0a0a"/>
<circle cx="278.10" cy="590.82" r="1.8" fill="#0a0a0a"/>
<circle cx="274.18" cy="594.84" r="1.8" fill="#0a0a0a"/>
<circle cx="270.26" cy="598.87" r="1.8" fill="#0a0a0a"/>
<circle cx="266.34" cy="602.90" r="1.8" fill="#0a0a0a"/>
<circle cx="262.42" cy="605.58" r="1.8" fill="#0a0a0a"/>
<polyline fill="none" stroke="#0a0a0a" stroke-width="0.95" stroke-linejoin="round" points="304.42,555.93 300.50,565.32 296.58,573.37 292.66,580.75 288.74,587.46 284.82,592.16 280.90,596.86 276.98,600.21 273.06,604.24 269.14,606.92"/>
<circle cx="304.42" cy="555.93" r="1.8" fill="#0a0a0a"/>
<circle cx="300.50" cy="565.32" r="1.8" fill="#0a0a0a"/>
<circle cx="296.58" cy="573.37" r="1.8" fill="#0a0a0a"/>
<circle cx="292.66" cy="580.75" r="1.8" fill="#0a0a0a"/>
<circle cx="288.74" cy="587.46" r="1.8" fill="#0a0a0a"/>
<circle cx="284.82" cy="592.16" r="1.8" fill="#0a0a0a"/>
<circle cx="280.90" cy="596.86" r="1.8" fill="#0a0a0a"/>
<circle cx="276.98" cy="600.21" r="1.8" fill="#0a0a0a"/>
<circle cx="273.06" cy="604.24" r="1.8" fill="#0a0a0a"/>
<circle cx="269.14" cy="606.92" r="1.8" fill="#0a0a0a"/>
<polyline fill="none" stroke="#0a0a0a" stroke-width="0.95" stroke-linejoin="round" points="245.62,603.65 249.37,606.94 253.12,607.32 256.88,599.98 260.63,607.23 264.38,601.41 268.13,607.59 271.88,614.97 275.64,619.00 279.39,619.00 283.14,619.00 286.89,619.00 290.64,619.00 294.40,619.00 298.15,619.00 301.90,619.00 305.65,619.00 309.40,619.00 313.16,619.00 316.91,619.00 320.66,619.00"/>
<circle cx="245.62" cy="603.65" r="1.8" fill="#0a0a0a"/>
<circle cx="249.37" cy="606.94" r="1.8" fill="#0a0a0a"/>
<circle cx="253.12" cy="607.32" r="1.8" fill="#0a0a0a"/>
<circle cx="256.88" cy="599.98" r="1.8" fill="#0a0a0a"/>
<circle cx="260.63" cy="607.23" r="1.8" fill="#0a0a0a"/>
<circle cx="264.38" cy="601.41" r="1.8" fill="#0a0a0a"/>
<circle cx="268.13" cy="607.59" r="1.8" fill="#0a0a0a"/>
<circle cx="271.88" cy="614.97" r="1.8" fill="#0a0a0a"/>
<circle cx="275.64" cy="619.00" r="1.8" fill="#0a0a0a"/>
<circle cx="279.39" cy="619.00" r="1.8" fill="#0a0a0a"/>
<circle cx="283.14" cy="619.00" r="1.8" fill="#0a0a0a"/>
<circle cx="286.89" cy="619.00" r="1.8" fill="#0a0a0a"/>
<circle cx="290.64" cy="619.00" r="1.8" fill="#0a0a0a"/>
<circle cx="294.40" cy="619.00" r="1.8" fill="#0a0a0a"/>
<circle cx="298.15" cy="619.00" r="1.8" fill="#0a0a0a"/>
<circle cx="301.90" cy="619.00" r="1.8" fill="#0a0a0a"/>
<circle cx="305.65" cy="619.00" r="1.8" fill="#0a0a0a"/>
<circle cx="309.40" cy="619.00" r="1.8" fill="#0a0a0a"/>
<circle cx="313.16" cy="619.00" r="1.8" fill="#0a0a0a"/>
<circle cx="316.91" cy="619.00" r="1.8" fill="#0a0a0a"/>
<circle cx="320.66" cy="619.00" r="1.8" fill="#0a0a0a"/>
<polyline fill="none" stroke="#0a0a0a" stroke-width="0.95" stroke-linejoin="round" points="249.37,602.62 253.12,604.90 256.88,600.69 260.63,607.43 264.38,606.41 268.13,603.63 271.88,607.59 275.64,614.97 279.39,619.00 283.14,619.00 286.89,619.00 290.64,619.00 294.40,619.00 298.15,619.00 301.90,619.00 305.65,619.00 309.40,619.00 313.16,619.00 316.91,619.00 320.66,619.00"/>
<circle cx="249.37" cy="602.62" r="1.8" fill="#0a0a0a"/>
<circle cx="253.12" cy="604.90" r="1.8" fill="#0a0a0a"/>
<circle cx="256.88" cy="600.69" r="1.8" fill="#0a0a0a"/>
<circle cx="260.63" cy="607.43" r="1.8" fill="#0a0a0a"/>
<circle cx="264.38" cy="606.41" r="1.8" fill="#0a0a0a"/>
<circle cx="268.13" cy="603.63" r="1.8" fill="#0a0a0a"/>
<circle cx="271.88" cy="607.59" r="1.8" fill="#0a0a0a"/>
<circle cx="275.64" cy="614.97" r="1.8" fill="#0a0a0a"/>
<circle cx="279.39" cy="619.00" r="1.8" fill="#0a0a0a"/>
<circle cx="283.14" cy="619.00" r="1.8" fill="#0a0a0a"/>
<circle cx="286.89" cy="619.00" r="1.8" fill="#0a0a0a"/>
<circle cx="290.64" cy="619.00" r="1.8" fill="#0a0a0a"/>
<circle cx="294.40" cy="619.00" r="1.8" fill="#0a0a0a"/>
<circle cx="298.15" cy="619.00" r="1.8" fill="#0a0a0a"/>
<circle cx="301.90" cy="619.00" r="1.8" fill="#0a0a0a"/>
<circle cx="305.65" cy="619.00" r="1.8" fill="#0a0a0a"/>
<circle cx="309.40" cy="619.00" r="1.8" fill="#0a0a0a"/>
<circle cx="313.16" cy="619.00" r="1.8" fill="#0a0a0a"/>
<circle cx="316.91" cy="619.00" r="1.8" fill="#0a0a0a"/>
<circle cx="320.66" cy="619.00" r="1.8" fill="#0a0a0a"/>
<polyline fill="none" stroke="#0a0a0a" stroke-width="0.95" stroke-linejoin="round" points="256.88,607.38 260.63,600.36 264.38,605.52 268.13,606.36 271.88,607.18 275.64,602.10 279.39,607.59 283.14,614.97 286.89,619.00 290.64,619.00 294.40,619.00 298.15,619.00 301.90,619.00 305.65,619.00 309.40,619.00 313.16,619.00 316.91,619.00 320.66,619.00"/>
<circle cx="256.88" cy="607.38" r="1.8" fill="#0a0a0a"/>
<circle cx="260.63" cy="600.36" r="1.8" fill="#0a0a0a"/>
<circle cx="264.38" cy="605.52" r="1.8" fill="#0a0a0a"/>
<circle cx="268.13" cy="606.36" r="1.8" fill="#0a0a0a"/>
<circle cx="271.88" cy="607.18" r="1.8" fill="#0a0a0a"/>
<circle cx="275.64" cy="602.10" r="1.8" fill="#0a0a0a"/>
<circle cx="279.39" cy="607.59" r="1.8" fill="#0a0a0a"/>
<circle cx="283.14" cy="614.97" r="1.8" fill="#0a0a0a"/>
<circle cx="286.89" cy="619.00" r="1.8" fill="#0a0a0a"/>
<circle cx="290.64" cy="619.00" r="1.8" fill="#0a0a0a"/>
<circle cx="294.40" cy="619.00" r="1.8" fill="#0a0a0a"/>
<circle cx="298.15" cy="619.00" r="1.8" fill="#0a0a0a"/>
<circle cx="301.90" cy="619.00" r="1.8" fill="#0a0a0a"/>
<circle cx="305.65" cy="619.00" r="1.8" fill="#0a0a0a"/>
<circle cx="309.40" cy="619.00" r="1.8" fill="#0a0a0a"/>
<circle cx="313.16" cy="619.00" r="1.8" fill="#0a0a0a"/>
<circle cx="316.91" cy="619.00" r="1.8" fill="#0a0a0a"/>
<circle cx="320.66" cy="619.00" r="1.8" fill="#0a0a0a"/>
<line x1="385.80" y1="483.75" x2="385.80" y2="619.80" stroke="#4c4c4c" stroke-width="1.15" stroke-linecap="butt"/>
<line x1="385.20" y1="619.20" x2="503.50" y2="619.20" stroke="#4c4c4c" stroke-width="1.15" stroke-linecap="butt"/>
<line x1="383.00" y1="619.35" x2="385.80" y2="619.35" stroke="#4c4c4c" stroke-width="1.15" stroke-linecap="butt"/>
<text x="380.10" y="621.95" font-size="8.7" text-anchor="end" fill="#222">−2</text>
<line x1="383.00" y1="585.60" x2="385.80" y2="585.60" stroke="#4c4c4c" stroke-width="1.15" stroke-linecap="butt"/>
<text x="380.10" y="588.20" font-size="8.7" text-anchor="end" fill="#222">0</text>
<line x1="383.00" y1="551.85" x2="385.80" y2="551.85" stroke="#4c4c4c" stroke-width="1.15" stroke-linecap="butt"/>
<text x="380.10" y="554.45" font-size="8.7" text-anchor="end" fill="#222">2</text>
<line x1="383.00" y1="518.10" x2="385.80" y2="518.10" stroke="#4c4c4c" stroke-width="1.15" stroke-linecap="butt"/>
<text x="380.10" y="520.70" font-size="8.7" text-anchor="end" fill="#222">4</text>
<line x1="383.00" y1="484.35" x2="385.80" y2="484.35" stroke="#4c4c4c" stroke-width="1.15" stroke-linecap="butt"/>
<text x="380.10" y="486.95" font-size="8.7" text-anchor="end" fill="#222">6</text>
<line x1="419.50" y1="619.20" x2="419.50" y2="622.40" stroke="#4c4c4c" stroke-width="1.15" stroke-linecap="butt"/>
<line x1="470.30" y1="619.20" x2="470.30" y2="622.40" stroke="#4c4c4c" stroke-width="1.15" stroke-linecap="butt"/>
<line x1="385.80" y1="585.60" x2="503.50" y2="585.60" stroke="#111" stroke-width="1.4" stroke-dasharray="1.6 1.5" stroke-linecap="butt"/>
<text x="368.20" y="552.00" font-size="8.7" text-anchor="middle" transform="rotate(-90 368.20 552.00)" fill="#222">Tumor growth (mm<tspan font-size="5.8" dy="-3.3">2</tspan><tspan dy="3.3">/day)</tspan></text>
<line x1="417.60" y1="493.70" x2="475.30" y2="493.70" stroke="#333" stroke-width="1.0" stroke-linecap="butt"/>
<text x="446.70" y="493.50" font-size="9.4" text-anchor="middle" font-weight="bold" fill="#111" letter-spacing="0.6">****</text>
<line x1="453.10" y1="559.00" x2="486.30" y2="559.00" stroke="#333" stroke-width="1.0" stroke-linecap="butt"/>
<line x1="462.00" y1="562.30" x2="477.50" y2="562.30" stroke="#333" stroke-width="1.0" stroke-linecap="butt"/>
<circle cx="414.38" cy="515.25" r="2.7" fill="#0a0a0a"/>
<circle cx="424.62" cy="514.75" r="2.7" fill="#0a0a0a"/>
<circle cx="408.50" cy="523.12" r="2.7" fill="#0a0a0a"/>
<circle cx="416.00" cy="524.00" r="2.7" fill="#0a0a0a"/>
<circle cx="419.38" cy="523.12" r="2.7" fill="#0a0a0a"/>
<circle cx="422.75" cy="527.75" r="2.7" fill="#0a0a0a"/>
<circle cx="404.75" cy="528.38" r="2.7" fill="#0a0a0a"/>
<circle cx="408.75" cy="529.62" r="2.7" fill="#0a0a0a"/>
<circle cx="413.12" cy="530.62" r="2.7" fill="#0a0a0a"/>
<circle cx="417.50" cy="531.25" r="2.7" fill="#0a0a0a"/>
<circle cx="421.88" cy="531.88" r="2.7" fill="#0a0a0a"/>
<circle cx="426.25" cy="532.12" r="2.7" fill="#0a0a0a"/>
<circle cx="430.00" cy="528.38" r="2.7" fill="#0a0a0a"/>
<circle cx="433.75" cy="527.75" r="2.7" fill="#0a0a0a"/>
<circle cx="415.62" cy="536.25" r="2.7" fill="#0a0a0a"/>
<circle cx="419.38" cy="535.00" r="2.7" fill="#0a0a0a"/>
<circle cx="423.12" cy="537.75" r="2.7" fill="#0a0a0a"/>
<circle cx="419.38" cy="538.50" r="2.7" fill="#0a0a0a"/>
<circle cx="412.25" cy="540.38" r="2.7" fill="#0a0a0a"/>
<circle cx="426.25" cy="540.38" r="2.7" fill="#0a0a0a"/>
<circle cx="470.00" cy="540.25" r="2.7" fill="#0a0a0a"/>
<circle cx="459.38" cy="546.25" r="2.7" fill="#0a0a0a"/>
<circle cx="471.88" cy="546.25" r="2.7" fill="#0a0a0a"/>
<circle cx="476.25" cy="547.12" r="2.7" fill="#0a0a0a"/>
<circle cx="455.62" cy="550.62" r="2.7" fill="#0a0a0a"/>
<circle cx="463.75" cy="551.25" r="2.7" fill="#0a0a0a"/>
<circle cx="484.38" cy="550.62" r="2.7" fill="#0a0a0a"/>
<circle cx="459.38" cy="554.62" r="2.7" fill="#0a0a0a"/>
<circle cx="463.12" cy="555.88" r="2.7" fill="#0a0a0a"/>
<circle cx="466.88" cy="555.25" r="2.7" fill="#0a0a0a"/>
<circle cx="470.62" cy="554.00" r="2.7" fill="#0a0a0a"/>
<circle cx="474.38" cy="552.75" r="2.7" fill="#0a0a0a"/>
<circle cx="477.75" cy="554.62" r="2.7" fill="#0a0a0a"/>
<circle cx="481.25" cy="553.12" r="2.7" fill="#0a0a0a"/>
<circle cx="459.38" cy="560.00" r="2.7" fill="#0a0a0a"/>
<circle cx="467.50" cy="559.75" r="2.7" fill="#0a0a0a"/>
<circle cx="476.25" cy="561.25" r="2.7" fill="#0a0a0a"/>
<circle cx="480.00" cy="558.75" r="2.7" fill="#0a0a0a"/>
<circle cx="459.40" cy="597.10" r="2.7" fill="#0a0a0a"/>
<circle cx="469.75" cy="595.25" r="2.7" fill="#0a0a0a"/>
<circle cx="480.00" cy="595.00" r="2.7" fill="#0a0a0a"/>
<text x="419.60" y="632.20" font-size="8.7" text-anchor="middle" fill="#222">cIg</text>
<text x="470.30" y="632.20" font-size="8.7" text-anchor="middle" fill="#222">α-MR1</text>
</svg>
</body></html>
